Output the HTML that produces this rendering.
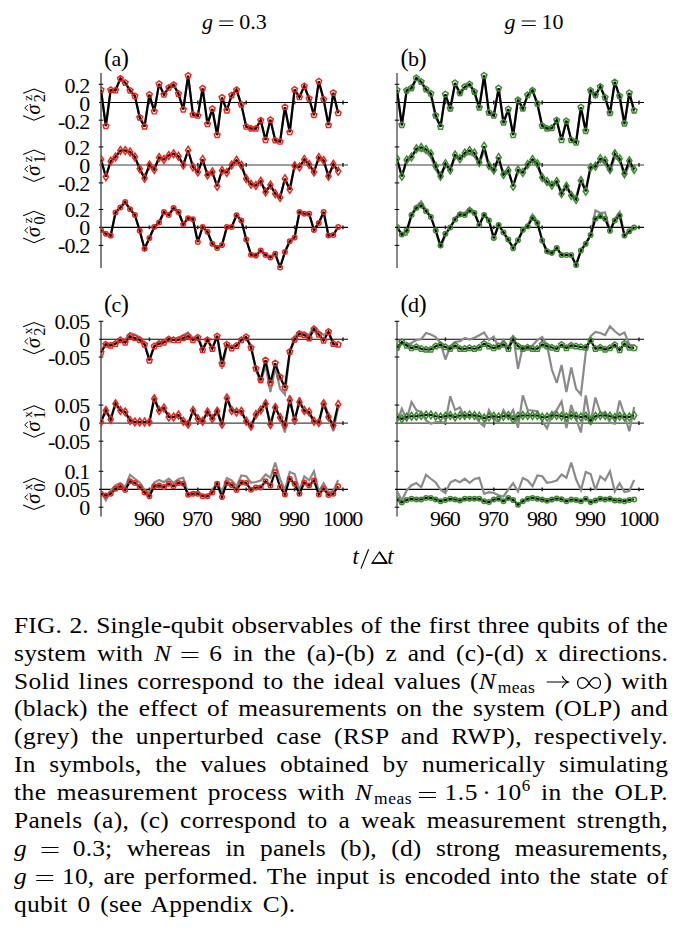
<!DOCTYPE html>
<html><head><meta charset="utf-8">
<style>
html,body{margin:0;padding:0;background:#fff;}
body{width:684px;height:930px;position:relative;overflow:hidden;}
#fig{position:absolute;left:0;top:0;}
.ln{position:absolute;left:14px;width:617px;transform:scaleX(1.06);transform-origin:0 0;font-family:"Liberation Serif",serif;font-size:24px;line-height:26px;height:26px;white-space:nowrap;text-align:justify;text-align-last:justify;color:#000;}
.ln.last{text-align:left;text-align-last:left;word-spacing:3px;}
.ln sub{font-size:16.5px;vertical-align:-4px;line-height:0;margin-left:1.5px;}
.ln sup{font-size:16px;vertical-align:9px;line-height:0;}
.eq{display:inline-block;width:15.8px;height:4px;border-top:1.1px solid #000;border-bottom:1.1px solid #000;margin:0 0 2.5px 0;}
.arr{vertical-align:-0.3px;margin:0 3px 0 10px;}
.inf{vertical-align:0px;margin:0 2px 0 4.5px;}
.dot{margin:0 4px;}
.eq.m{margin:0 8px 2.5px 7px;}
</style></head><body>
<svg id="fig" width="684" height="930" viewBox="0 0 684 930">
<line x1="101" y1="73" x2="101" y2="268" stroke="#808080" stroke-width="2"/>
<line x1="99" y1="102.5" x2="348" y2="102.5" stroke="#000" stroke-width="1.1"/>
<line x1="149.40" y1="100.6" x2="149.40" y2="104.4" stroke="#222" stroke-width="1.5"/>
<line x1="197.80" y1="100.6" x2="197.80" y2="104.4" stroke="#222" stroke-width="1.5"/>
<line x1="246.20" y1="100.6" x2="246.20" y2="104.4" stroke="#222" stroke-width="1.5"/>
<line x1="294.60" y1="100.6" x2="294.60" y2="104.4" stroke="#222" stroke-width="1.5"/>
<line x1="343.00" y1="100.6" x2="343.00" y2="104.4" stroke="#222" stroke-width="1.5"/>
<line x1="99" y1="164.9" x2="348" y2="164.9" stroke="#7c7c7c" stroke-width="1.5"/>
<line x1="149.40" y1="163.0" x2="149.40" y2="166.8" stroke="#222" stroke-width="1.5"/>
<line x1="197.80" y1="163.0" x2="197.80" y2="166.8" stroke="#222" stroke-width="1.5"/>
<line x1="246.20" y1="163.0" x2="246.20" y2="166.8" stroke="#222" stroke-width="1.5"/>
<line x1="294.60" y1="163.0" x2="294.60" y2="166.8" stroke="#222" stroke-width="1.5"/>
<line x1="343.00" y1="163.0" x2="343.00" y2="166.8" stroke="#222" stroke-width="1.5"/>
<line x1="99" y1="227.4" x2="348" y2="227.4" stroke="#000" stroke-width="1.1"/>
<line x1="149.40" y1="225.5" x2="149.40" y2="229.3" stroke="#222" stroke-width="1.5"/>
<line x1="197.80" y1="225.5" x2="197.80" y2="229.3" stroke="#222" stroke-width="1.5"/>
<line x1="246.20" y1="225.5" x2="246.20" y2="229.3" stroke="#222" stroke-width="1.5"/>
<line x1="294.60" y1="225.5" x2="294.60" y2="229.3" stroke="#222" stroke-width="1.5"/>
<line x1="343.00" y1="225.5" x2="343.00" y2="229.3" stroke="#222" stroke-width="1.5"/>
<line x1="98.7" y1="84.3" x2="103.3" y2="84.3" stroke="#111" stroke-width="1.1"/>
<line x1="98.7" y1="120.2" x2="103.3" y2="120.2" stroke="#111" stroke-width="1.1"/>
<line x1="98.7" y1="146.9" x2="103.3" y2="146.9" stroke="#111" stroke-width="1.1"/>
<line x1="98.7" y1="182.9" x2="103.3" y2="182.9" stroke="#111" stroke-width="1.1"/>
<line x1="98.7" y1="209.5" x2="103.3" y2="209.5" stroke="#111" stroke-width="1.1"/>
<line x1="98.7" y1="245.4" x2="103.3" y2="245.4" stroke="#111" stroke-width="1.1"/>
<line x1="397" y1="73" x2="397" y2="268" stroke="#4a4a4a" stroke-width="1.3"/>
<line x1="395" y1="102.5" x2="644" y2="102.5" stroke="#000" stroke-width="1.1"/>
<line x1="445.40" y1="100.6" x2="445.40" y2="104.4" stroke="#222" stroke-width="1.5"/>
<line x1="493.80" y1="100.6" x2="493.80" y2="104.4" stroke="#222" stroke-width="1.5"/>
<line x1="542.20" y1="100.6" x2="542.20" y2="104.4" stroke="#222" stroke-width="1.5"/>
<line x1="590.60" y1="100.6" x2="590.60" y2="104.4" stroke="#222" stroke-width="1.5"/>
<line x1="639.00" y1="100.6" x2="639.00" y2="104.4" stroke="#222" stroke-width="1.5"/>
<line x1="395" y1="164.9" x2="644" y2="164.9" stroke="#7c7c7c" stroke-width="1.5"/>
<line x1="445.40" y1="163.0" x2="445.40" y2="166.8" stroke="#222" stroke-width="1.5"/>
<line x1="493.80" y1="163.0" x2="493.80" y2="166.8" stroke="#222" stroke-width="1.5"/>
<line x1="542.20" y1="163.0" x2="542.20" y2="166.8" stroke="#222" stroke-width="1.5"/>
<line x1="590.60" y1="163.0" x2="590.60" y2="166.8" stroke="#222" stroke-width="1.5"/>
<line x1="639.00" y1="163.0" x2="639.00" y2="166.8" stroke="#222" stroke-width="1.5"/>
<line x1="395" y1="227.4" x2="644" y2="227.4" stroke="#000" stroke-width="1.1"/>
<line x1="445.40" y1="225.5" x2="445.40" y2="229.3" stroke="#222" stroke-width="1.5"/>
<line x1="493.80" y1="225.5" x2="493.80" y2="229.3" stroke="#222" stroke-width="1.5"/>
<line x1="542.20" y1="225.5" x2="542.20" y2="229.3" stroke="#222" stroke-width="1.5"/>
<line x1="590.60" y1="225.5" x2="590.60" y2="229.3" stroke="#222" stroke-width="1.5"/>
<line x1="639.00" y1="225.5" x2="639.00" y2="229.3" stroke="#222" stroke-width="1.5"/>
<line x1="394.7" y1="84.3" x2="399.3" y2="84.3" stroke="#111" stroke-width="1.1"/>
<line x1="394.7" y1="120.2" x2="399.3" y2="120.2" stroke="#111" stroke-width="1.1"/>
<line x1="394.7" y1="146.9" x2="399.3" y2="146.9" stroke="#111" stroke-width="1.1"/>
<line x1="394.7" y1="182.9" x2="399.3" y2="182.9" stroke="#111" stroke-width="1.1"/>
<line x1="394.7" y1="209.5" x2="399.3" y2="209.5" stroke="#111" stroke-width="1.1"/>
<line x1="394.7" y1="245.4" x2="399.3" y2="245.4" stroke="#111" stroke-width="1.1"/>
<line x1="101" y1="321" x2="101" y2="516.5" stroke="#808080" stroke-width="2"/>
<line x1="99" y1="339.3" x2="348" y2="339.3" stroke="#000" stroke-width="1.1"/>
<line x1="149.40" y1="337.40000000000003" x2="149.40" y2="341.2" stroke="#222" stroke-width="1.5"/>
<line x1="197.80" y1="337.40000000000003" x2="197.80" y2="341.2" stroke="#222" stroke-width="1.5"/>
<line x1="246.20" y1="337.40000000000003" x2="246.20" y2="341.2" stroke="#222" stroke-width="1.5"/>
<line x1="294.60" y1="337.40000000000003" x2="294.60" y2="341.2" stroke="#222" stroke-width="1.5"/>
<line x1="343.00" y1="337.40000000000003" x2="343.00" y2="341.2" stroke="#222" stroke-width="1.5"/>
<line x1="99" y1="423.1" x2="348" y2="423.1" stroke="#444" stroke-width="1.2"/>
<line x1="149.40" y1="421.20000000000005" x2="149.40" y2="425.0" stroke="#222" stroke-width="1.5"/>
<line x1="197.80" y1="421.20000000000005" x2="197.80" y2="425.0" stroke="#222" stroke-width="1.5"/>
<line x1="246.20" y1="421.20000000000005" x2="246.20" y2="425.0" stroke="#222" stroke-width="1.5"/>
<line x1="294.60" y1="421.20000000000005" x2="294.60" y2="425.0" stroke="#222" stroke-width="1.5"/>
<line x1="343.00" y1="421.20000000000005" x2="343.00" y2="425.0" stroke="#222" stroke-width="1.5"/>
<line x1="99" y1="489.4" x2="348" y2="489.4" stroke="#000" stroke-width="1.1"/>
<line x1="149.40" y1="487.5" x2="149.40" y2="491.29999999999995" stroke="#222" stroke-width="1.5"/>
<line x1="197.80" y1="487.5" x2="197.80" y2="491.29999999999995" stroke="#222" stroke-width="1.5"/>
<line x1="246.20" y1="487.5" x2="246.20" y2="491.29999999999995" stroke="#222" stroke-width="1.5"/>
<line x1="294.60" y1="487.5" x2="294.60" y2="491.29999999999995" stroke="#222" stroke-width="1.5"/>
<line x1="343.00" y1="487.5" x2="343.00" y2="491.29999999999995" stroke="#222" stroke-width="1.5"/>
<line x1="98.7" y1="321.3" x2="103.3" y2="321.3" stroke="#111" stroke-width="1.1"/>
<line x1="98.7" y1="357" x2="103.3" y2="357" stroke="#111" stroke-width="1.1"/>
<line x1="98.7" y1="405.1" x2="103.3" y2="405.1" stroke="#111" stroke-width="1.1"/>
<line x1="98.7" y1="441.2" x2="103.3" y2="441.2" stroke="#111" stroke-width="1.1"/>
<line x1="98.7" y1="471.3" x2="103.3" y2="471.3" stroke="#111" stroke-width="1.1"/>
<line x1="98.7" y1="507.2" x2="103.3" y2="507.2" stroke="#111" stroke-width="1.1"/>
<line x1="397" y1="321" x2="397" y2="516.5" stroke="#4a4a4a" stroke-width="1.3"/>
<line x1="395" y1="339.3" x2="644" y2="339.3" stroke="#000" stroke-width="1.1"/>
<line x1="445.40" y1="337.40000000000003" x2="445.40" y2="341.2" stroke="#222" stroke-width="1.5"/>
<line x1="493.80" y1="337.40000000000003" x2="493.80" y2="341.2" stroke="#222" stroke-width="1.5"/>
<line x1="542.20" y1="337.40000000000003" x2="542.20" y2="341.2" stroke="#222" stroke-width="1.5"/>
<line x1="590.60" y1="337.40000000000003" x2="590.60" y2="341.2" stroke="#222" stroke-width="1.5"/>
<line x1="639.00" y1="337.40000000000003" x2="639.00" y2="341.2" stroke="#222" stroke-width="1.5"/>
<line x1="395" y1="423.1" x2="644" y2="423.1" stroke="#444" stroke-width="1.2"/>
<line x1="445.40" y1="421.20000000000005" x2="445.40" y2="425.0" stroke="#222" stroke-width="1.5"/>
<line x1="493.80" y1="421.20000000000005" x2="493.80" y2="425.0" stroke="#222" stroke-width="1.5"/>
<line x1="542.20" y1="421.20000000000005" x2="542.20" y2="425.0" stroke="#222" stroke-width="1.5"/>
<line x1="590.60" y1="421.20000000000005" x2="590.60" y2="425.0" stroke="#222" stroke-width="1.5"/>
<line x1="639.00" y1="421.20000000000005" x2="639.00" y2="425.0" stroke="#222" stroke-width="1.5"/>
<line x1="395" y1="489.4" x2="644" y2="489.4" stroke="#000" stroke-width="1.1"/>
<line x1="445.40" y1="487.5" x2="445.40" y2="491.29999999999995" stroke="#222" stroke-width="1.5"/>
<line x1="493.80" y1="487.5" x2="493.80" y2="491.29999999999995" stroke="#222" stroke-width="1.5"/>
<line x1="542.20" y1="487.5" x2="542.20" y2="491.29999999999995" stroke="#222" stroke-width="1.5"/>
<line x1="590.60" y1="487.5" x2="590.60" y2="491.29999999999995" stroke="#222" stroke-width="1.5"/>
<line x1="639.00" y1="487.5" x2="639.00" y2="491.29999999999995" stroke="#222" stroke-width="1.5"/>
<line x1="394.7" y1="321.3" x2="399.3" y2="321.3" stroke="#111" stroke-width="1.1"/>
<line x1="394.7" y1="357" x2="399.3" y2="357" stroke="#111" stroke-width="1.1"/>
<line x1="394.7" y1="405.1" x2="399.3" y2="405.1" stroke="#111" stroke-width="1.1"/>
<line x1="394.7" y1="441.2" x2="399.3" y2="441.2" stroke="#111" stroke-width="1.1"/>
<line x1="394.7" y1="471.3" x2="399.3" y2="471.3" stroke="#111" stroke-width="1.1"/>
<line x1="394.7" y1="507.2" x2="399.3" y2="507.2" stroke="#111" stroke-width="1.1"/>
<defs><clipPath id="cl"><rect x="100.6" y="0" width="260" height="600"/></clipPath><clipPath id="cr"><rect x="396.8" y="0" width="260" height="600"/></clipPath></defs>
<g clip-path="url(#cl)">
<polyline points="101.00,89.95 105.84,126.06 110.68,89.95 115.52,90.33 120.36,78.55 125.20,82.73 130.04,90.52 134.88,96.04 139.72,117.51 144.56,126.63 149.40,94.71 154.24,111.43 159.08,83.87 163.92,94.71 168.76,87.67 173.60,84.82 178.44,93.76 183.28,109.53 188.12,75.70 192.96,114.66 197.80,115.61 202.64,88.43 207.48,124.16 212.32,108.96 217.16,135.04 222.00,97.56 226.84,110.48 231.68,95.28 236.52,89.95 241.36,104.59 246.20,126.68 251.04,128.58 255.88,128.58 260.72,120.41 265.56,139.98 270.40,119.84 275.24,140.36 280.08,141.69 284.92,107.10 289.76,132.19 294.60,89.57 299.44,97.18 304.28,86.15 309.12,98.51 313.96,115.08 318.80,81.40 323.64,99.46 328.48,125.16 333.32,92.81 338.16,113.19" fill="none" stroke="#888" stroke-width="2.2" stroke-linejoin="miter" stroke-miterlimit="3"/>
<polyline points="101.00,89.95 105.84,126.06 110.68,89.95 115.52,90.33 120.36,78.55 125.20,82.73 130.04,90.52 134.88,96.04 139.72,117.51 144.56,126.63 149.40,94.71 154.24,111.43 159.08,83.87 163.92,94.71 168.76,87.67 173.60,84.82 178.44,93.76 183.28,109.53 188.12,75.70 192.96,114.66 197.80,115.61 202.64,88.43 207.48,124.16 212.32,108.96 217.16,135.04 222.00,97.56 226.84,110.48 231.68,95.28 236.52,89.95 241.36,104.59 246.20,126.68 251.04,128.58 255.88,128.58 260.72,120.41 265.56,139.98 270.40,119.84 275.24,140.36 280.08,141.69 284.92,107.10 289.76,132.19 294.60,89.57 299.44,97.18 304.28,86.15 309.12,98.51 313.96,115.08 318.80,81.40 323.64,99.46 328.48,125.16 333.32,92.81 338.16,113.19" fill="none" stroke="#000" stroke-width="2.2" stroke-linejoin="miter" stroke-miterlimit="3"/>
<path d="M101.00,86.95 L103.85,89.02 L102.76,92.38 L99.24,92.38 L98.15,89.02ZM105.84,123.06 L108.69,125.13 L107.60,128.49 L104.08,128.49 L102.99,125.13ZM110.68,86.95 L113.53,89.02 L112.44,92.38 L108.92,92.38 L107.83,89.02ZM115.52,87.33 L118.37,89.40 L117.28,92.76 L113.76,92.76 L112.67,89.40ZM120.36,75.55 L123.21,77.62 L122.12,80.98 L118.60,80.98 L117.51,77.62ZM125.20,79.73 L128.05,81.80 L126.96,85.16 L123.44,85.16 L122.35,81.80ZM130.04,87.52 L132.89,89.59 L131.80,92.95 L128.28,92.95 L127.19,89.59ZM134.88,93.04 L137.73,95.11 L136.64,98.47 L133.12,98.47 L132.03,95.11ZM139.72,114.51 L142.57,116.58 L141.48,119.94 L137.96,119.94 L136.87,116.58ZM144.56,123.63 L147.41,125.70 L146.32,129.06 L142.80,129.06 L141.71,125.70ZM149.40,91.71 L152.25,93.78 L151.16,97.14 L147.64,97.14 L146.55,93.78ZM154.24,108.43 L157.09,110.50 L156.00,113.86 L152.48,113.86 L151.39,110.50ZM159.08,80.87 L161.93,82.94 L160.84,86.30 L157.32,86.30 L156.23,82.94ZM163.92,91.71 L166.77,93.78 L165.68,97.14 L162.16,97.14 L161.07,93.78ZM168.76,84.67 L171.61,86.74 L170.52,90.10 L167.00,90.10 L165.91,86.74ZM173.60,81.82 L176.45,83.89 L175.36,87.25 L171.84,87.25 L170.75,83.89ZM178.44,90.76 L181.29,92.83 L180.20,96.19 L176.68,96.19 L175.59,92.83ZM183.28,106.53 L186.13,108.60 L185.04,111.96 L181.52,111.96 L180.43,108.60ZM188.12,72.70 L190.97,74.77 L189.88,78.13 L186.36,78.13 L185.27,74.77ZM192.96,111.66 L195.81,113.73 L194.72,117.09 L191.20,117.09 L190.11,113.73ZM197.80,112.61 L200.65,114.68 L199.56,118.04 L196.04,118.04 L194.95,114.68ZM202.64,85.43 L205.49,87.50 L204.40,90.86 L200.88,90.86 L199.79,87.50ZM207.48,121.16 L210.33,123.23 L209.24,126.59 L205.72,126.59 L204.63,123.23ZM212.32,105.96 L215.17,108.03 L214.08,111.39 L210.56,111.39 L209.47,108.03ZM217.16,132.04 L220.01,134.11 L218.92,137.47 L215.40,137.47 L214.31,134.11ZM222.00,94.56 L224.85,96.63 L223.76,99.99 L220.24,99.99 L219.15,96.63ZM226.84,107.48 L229.69,109.55 L228.60,112.91 L225.08,112.91 L223.99,109.55ZM231.68,92.28 L234.53,94.35 L233.44,97.71 L229.92,97.71 L228.83,94.35ZM236.52,86.95 L239.37,89.02 L238.28,92.38 L234.76,92.38 L233.67,89.02ZM241.36,101.59 L244.21,103.66 L243.12,107.02 L239.60,107.02 L238.51,103.66ZM246.20,123.68 L249.05,125.75 L247.96,129.11 L244.44,129.11 L243.35,125.75ZM251.04,125.58 L253.89,127.65 L252.80,131.01 L249.28,131.01 L248.19,127.65ZM255.88,125.58 L258.73,127.65 L257.64,131.01 L254.12,131.01 L253.03,127.65ZM260.72,117.41 L263.57,119.48 L262.48,122.84 L258.96,122.84 L257.87,119.48ZM265.56,136.98 L268.41,139.05 L267.32,142.41 L263.80,142.41 L262.71,139.05ZM270.40,116.84 L273.25,118.91 L272.16,122.27 L268.64,122.27 L267.55,118.91ZM275.24,137.36 L278.09,139.43 L277.00,142.79 L273.48,142.79 L272.39,139.43ZM280.08,138.69 L282.93,140.76 L281.84,144.12 L278.32,144.12 L277.23,140.76ZM284.92,104.10 L287.77,106.17 L286.68,109.53 L283.16,109.53 L282.07,106.17ZM289.76,129.19 L292.61,131.26 L291.52,134.62 L288.00,134.62 L286.91,131.26ZM294.60,86.57 L297.45,88.64 L296.36,92.00 L292.84,92.00 L291.75,88.64ZM299.44,94.18 L302.29,96.25 L301.20,99.61 L297.68,99.61 L296.59,96.25ZM304.28,83.15 L307.13,85.22 L306.04,88.58 L302.52,88.58 L301.43,85.22ZM309.12,95.51 L311.97,97.58 L310.88,100.94 L307.36,100.94 L306.27,97.58ZM313.96,112.08 L316.81,114.15 L315.72,117.51 L312.20,117.51 L311.11,114.15ZM318.80,78.40 L321.65,80.47 L320.56,83.83 L317.04,83.83 L315.95,80.47ZM323.64,96.46 L326.49,98.53 L325.40,101.89 L321.88,101.89 L320.79,98.53ZM328.48,122.16 L331.33,124.23 L330.24,127.59 L326.72,127.59 L325.63,124.23ZM333.32,89.81 L336.17,91.88 L335.08,95.24 L331.56,95.24 L330.47,91.88ZM338.16,110.19 L341.01,112.26 L339.92,115.62 L336.40,115.62 L335.31,112.26Z" fill="none" stroke="#e8261c" stroke-width="1.45"/>
<polyline points="101.00,159.50 105.84,176.75 110.68,161.25 115.52,157.00 120.36,150.50 125.20,150.50 130.04,152.00 134.88,157.00 139.72,168.75 144.56,178.25 149.40,165.00 154.24,169.50 159.08,157.50 163.92,159.50 168.76,155.50 173.60,153.75 178.44,156.25 183.28,165.00 188.12,150.25 192.96,167.00 197.80,172.00 202.64,159.50 207.48,175.00 212.32,172.00 217.16,186.25 222.00,170.50 226.84,172.50 231.68,165.00 236.52,160.25 241.36,165.25 246.20,178.75 251.04,184.25 255.88,185.50 260.72,181.25 265.56,192.00 270.40,185.00 275.24,193.75 280.08,197.50 284.92,178.75 289.76,189.50 294.60,165.75 299.44,167.00 304.28,159.50 309.12,164.50 313.96,172.00 318.80,157.50 323.64,160.50 328.48,176.25 333.32,164.25 338.16,171.25" fill="none" stroke="#888" stroke-width="2.2" stroke-linejoin="miter" stroke-miterlimit="3"/>
<polyline points="101.00,159.50 105.84,176.75 110.68,161.25 115.52,157.00 120.36,150.50 125.20,150.50 130.04,152.00 134.88,157.00 139.72,168.75 144.56,178.25 149.40,165.00 154.24,169.50 159.08,157.50 163.92,159.50 168.76,155.50 173.60,153.75 178.44,156.25 183.28,165.00 188.12,150.25 192.96,167.00 197.80,172.00 202.64,159.50 207.48,175.00 212.32,172.00 217.16,186.25 222.00,170.50 226.84,172.50 231.68,165.00 236.52,160.25 241.36,165.25 246.20,178.75 251.04,184.25 255.88,185.50 260.72,181.25 265.56,192.00 270.40,185.00 275.24,193.75 280.08,197.50 284.92,178.75 289.76,189.50 294.60,165.75 299.44,167.00 304.28,159.50 309.12,164.50 313.96,172.00 318.80,157.50 323.64,160.50 328.48,176.25 333.32,164.25 338.16,171.25" fill="none" stroke="#000" stroke-width="2.2" stroke-linejoin="miter" stroke-miterlimit="3"/>
<path d="M101.00,155.50 L103.60,159.50 L101.00,163.50 L98.40,159.50ZM105.84,172.75 L108.44,176.75 L105.84,180.75 L103.24,176.75ZM110.68,157.25 L113.28,161.25 L110.68,165.25 L108.08,161.25ZM115.52,153.00 L118.12,157.00 L115.52,161.00 L112.92,157.00ZM120.36,146.50 L122.96,150.50 L120.36,154.50 L117.76,150.50ZM125.20,146.50 L127.80,150.50 L125.20,154.50 L122.60,150.50ZM130.04,148.00 L132.64,152.00 L130.04,156.00 L127.44,152.00ZM134.88,153.00 L137.48,157.00 L134.88,161.00 L132.28,157.00ZM139.72,164.75 L142.32,168.75 L139.72,172.75 L137.12,168.75ZM144.56,174.25 L147.16,178.25 L144.56,182.25 L141.96,178.25ZM149.40,161.00 L152.00,165.00 L149.40,169.00 L146.80,165.00ZM154.24,165.50 L156.84,169.50 L154.24,173.50 L151.64,169.50ZM159.08,153.50 L161.68,157.50 L159.08,161.50 L156.48,157.50ZM163.92,155.50 L166.52,159.50 L163.92,163.50 L161.32,159.50ZM168.76,151.50 L171.36,155.50 L168.76,159.50 L166.16,155.50ZM173.60,149.75 L176.20,153.75 L173.60,157.75 L171.00,153.75ZM178.44,152.25 L181.04,156.25 L178.44,160.25 L175.84,156.25ZM183.28,161.00 L185.88,165.00 L183.28,169.00 L180.68,165.00ZM188.12,146.25 L190.72,150.25 L188.12,154.25 L185.52,150.25ZM192.96,163.00 L195.56,167.00 L192.96,171.00 L190.36,167.00ZM197.80,168.00 L200.40,172.00 L197.80,176.00 L195.20,172.00ZM202.64,155.50 L205.24,159.50 L202.64,163.50 L200.04,159.50ZM207.48,171.00 L210.08,175.00 L207.48,179.00 L204.88,175.00ZM212.32,168.00 L214.92,172.00 L212.32,176.00 L209.72,172.00ZM217.16,182.25 L219.76,186.25 L217.16,190.25 L214.56,186.25ZM222.00,166.50 L224.60,170.50 L222.00,174.50 L219.40,170.50ZM226.84,168.50 L229.44,172.50 L226.84,176.50 L224.24,172.50ZM231.68,161.00 L234.28,165.00 L231.68,169.00 L229.08,165.00ZM236.52,156.25 L239.12,160.25 L236.52,164.25 L233.92,160.25ZM241.36,161.25 L243.96,165.25 L241.36,169.25 L238.76,165.25ZM246.20,174.75 L248.80,178.75 L246.20,182.75 L243.60,178.75ZM251.04,180.25 L253.64,184.25 L251.04,188.25 L248.44,184.25ZM255.88,181.50 L258.48,185.50 L255.88,189.50 L253.28,185.50ZM260.72,177.25 L263.32,181.25 L260.72,185.25 L258.12,181.25ZM265.56,188.00 L268.16,192.00 L265.56,196.00 L262.96,192.00ZM270.40,181.00 L273.00,185.00 L270.40,189.00 L267.80,185.00ZM275.24,189.75 L277.84,193.75 L275.24,197.75 L272.64,193.75ZM280.08,193.50 L282.68,197.50 L280.08,201.50 L277.48,197.50ZM284.92,174.75 L287.52,178.75 L284.92,182.75 L282.32,178.75ZM289.76,185.50 L292.36,189.50 L289.76,193.50 L287.16,189.50ZM294.60,161.75 L297.20,165.75 L294.60,169.75 L292.00,165.75ZM299.44,163.00 L302.04,167.00 L299.44,171.00 L296.84,167.00ZM304.28,155.50 L306.88,159.50 L304.28,163.50 L301.68,159.50ZM309.12,160.50 L311.72,164.50 L309.12,168.50 L306.52,164.50ZM313.96,168.00 L316.56,172.00 L313.96,176.00 L311.36,172.00ZM318.80,153.50 L321.40,157.50 L318.80,161.50 L316.20,157.50ZM323.64,156.50 L326.24,160.50 L323.64,164.50 L321.04,160.50ZM328.48,172.25 L331.08,176.25 L328.48,180.25 L325.88,176.25ZM333.32,160.25 L335.92,164.25 L333.32,168.25 L330.72,164.25ZM338.16,167.25 L340.76,171.25 L338.16,175.25 L335.56,171.25Z" fill="none" stroke="#e8261c" stroke-width="1.45"/>
<polyline points="101.00,230.00 105.84,233.75 110.68,235.75 115.52,212.50 120.36,207.50 125.20,202.00 130.04,209.25 134.88,215.00 139.72,230.75 144.56,248.75 149.40,238.00 154.24,227.00 159.08,222.50 163.92,212.00 168.76,215.00 173.60,208.00 178.44,212.00 183.28,224.25 188.12,218.25 192.96,219.25 197.80,242.00 202.64,227.00 207.48,231.75 212.32,243.75 217.16,248.00 222.00,245.00 226.84,227.00 231.68,227.00 236.52,215.25 241.36,220.50 246.20,239.50 251.04,254.75 255.88,255.50 260.72,250.50 265.56,255.00 270.40,257.50 275.24,253.75 280.08,267.50 284.92,252.00 289.76,241.25 294.60,237.50 299.44,212.00 304.28,213.75 309.12,213.75 313.96,230.00 318.80,223.00 323.64,212.00 328.48,235.50 333.32,235.00 338.16,227.00" fill="none" stroke="#888" stroke-width="2.2" stroke-linejoin="miter" stroke-miterlimit="3"/>
<polyline points="101.00,230.00 105.84,233.75 110.68,235.75 115.52,212.50 120.36,207.50 125.20,202.00 130.04,209.25 134.88,215.00 139.72,230.75 144.56,248.75 149.40,238.00 154.24,227.00 159.08,222.50 163.92,212.00 168.76,215.00 173.60,208.00 178.44,212.00 183.28,224.25 188.12,218.25 192.96,219.25 197.80,242.00 202.64,227.00 207.48,231.75 212.32,243.75 217.16,248.00 222.00,245.00 226.84,227.00 231.68,227.00 236.52,215.25 241.36,220.50 246.20,239.50 251.04,254.75 255.88,255.50 260.72,250.50 265.56,255.00 270.40,257.50 275.24,253.75 280.08,267.50 284.92,252.00 289.76,241.25 294.60,237.50 299.44,212.00 304.28,213.75 309.12,213.75 313.96,230.00 318.80,223.00 323.64,212.00 328.48,235.50 333.32,235.00 338.16,227.00" fill="none" stroke="#000" stroke-width="2.2" stroke-linejoin="miter" stroke-miterlimit="3"/>
<path d="M98.70,230.00 a2.3,2.3 0 1,0 4.60,0 a2.3,2.3 0 1,0 -4.60,0ZM103.54,233.75 a2.3,2.3 0 1,0 4.60,0 a2.3,2.3 0 1,0 -4.60,0ZM108.38,235.75 a2.3,2.3 0 1,0 4.60,0 a2.3,2.3 0 1,0 -4.60,0ZM113.22,212.50 a2.3,2.3 0 1,0 4.60,0 a2.3,2.3 0 1,0 -4.60,0ZM118.06,207.50 a2.3,2.3 0 1,0 4.60,0 a2.3,2.3 0 1,0 -4.60,0ZM122.90,202.00 a2.3,2.3 0 1,0 4.60,0 a2.3,2.3 0 1,0 -4.60,0ZM127.74,209.25 a2.3,2.3 0 1,0 4.60,0 a2.3,2.3 0 1,0 -4.60,0ZM132.58,215.00 a2.3,2.3 0 1,0 4.60,0 a2.3,2.3 0 1,0 -4.60,0ZM137.42,230.75 a2.3,2.3 0 1,0 4.60,0 a2.3,2.3 0 1,0 -4.60,0ZM142.26,248.75 a2.3,2.3 0 1,0 4.60,0 a2.3,2.3 0 1,0 -4.60,0ZM147.10,238.00 a2.3,2.3 0 1,0 4.60,0 a2.3,2.3 0 1,0 -4.60,0ZM151.94,227.00 a2.3,2.3 0 1,0 4.60,0 a2.3,2.3 0 1,0 -4.60,0ZM156.78,222.50 a2.3,2.3 0 1,0 4.60,0 a2.3,2.3 0 1,0 -4.60,0ZM161.62,212.00 a2.3,2.3 0 1,0 4.60,0 a2.3,2.3 0 1,0 -4.60,0ZM166.46,215.00 a2.3,2.3 0 1,0 4.60,0 a2.3,2.3 0 1,0 -4.60,0ZM171.30,208.00 a2.3,2.3 0 1,0 4.60,0 a2.3,2.3 0 1,0 -4.60,0ZM176.14,212.00 a2.3,2.3 0 1,0 4.60,0 a2.3,2.3 0 1,0 -4.60,0ZM180.98,224.25 a2.3,2.3 0 1,0 4.60,0 a2.3,2.3 0 1,0 -4.60,0ZM185.82,218.25 a2.3,2.3 0 1,0 4.60,0 a2.3,2.3 0 1,0 -4.60,0ZM190.66,219.25 a2.3,2.3 0 1,0 4.60,0 a2.3,2.3 0 1,0 -4.60,0ZM195.50,242.00 a2.3,2.3 0 1,0 4.60,0 a2.3,2.3 0 1,0 -4.60,0ZM200.34,227.00 a2.3,2.3 0 1,0 4.60,0 a2.3,2.3 0 1,0 -4.60,0ZM205.18,231.75 a2.3,2.3 0 1,0 4.60,0 a2.3,2.3 0 1,0 -4.60,0ZM210.02,243.75 a2.3,2.3 0 1,0 4.60,0 a2.3,2.3 0 1,0 -4.60,0ZM214.86,248.00 a2.3,2.3 0 1,0 4.60,0 a2.3,2.3 0 1,0 -4.60,0ZM219.70,245.00 a2.3,2.3 0 1,0 4.60,0 a2.3,2.3 0 1,0 -4.60,0ZM224.54,227.00 a2.3,2.3 0 1,0 4.60,0 a2.3,2.3 0 1,0 -4.60,0ZM229.38,227.00 a2.3,2.3 0 1,0 4.60,0 a2.3,2.3 0 1,0 -4.60,0ZM234.22,215.25 a2.3,2.3 0 1,0 4.60,0 a2.3,2.3 0 1,0 -4.60,0ZM239.06,220.50 a2.3,2.3 0 1,0 4.60,0 a2.3,2.3 0 1,0 -4.60,0ZM243.90,239.50 a2.3,2.3 0 1,0 4.60,0 a2.3,2.3 0 1,0 -4.60,0ZM248.74,254.75 a2.3,2.3 0 1,0 4.60,0 a2.3,2.3 0 1,0 -4.60,0ZM253.58,255.50 a2.3,2.3 0 1,0 4.60,0 a2.3,2.3 0 1,0 -4.60,0ZM258.42,250.50 a2.3,2.3 0 1,0 4.60,0 a2.3,2.3 0 1,0 -4.60,0ZM263.26,255.00 a2.3,2.3 0 1,0 4.60,0 a2.3,2.3 0 1,0 -4.60,0ZM268.10,257.50 a2.3,2.3 0 1,0 4.60,0 a2.3,2.3 0 1,0 -4.60,0ZM272.94,253.75 a2.3,2.3 0 1,0 4.60,0 a2.3,2.3 0 1,0 -4.60,0ZM277.78,267.50 a2.3,2.3 0 1,0 4.60,0 a2.3,2.3 0 1,0 -4.60,0ZM282.62,252.00 a2.3,2.3 0 1,0 4.60,0 a2.3,2.3 0 1,0 -4.60,0ZM287.46,241.25 a2.3,2.3 0 1,0 4.60,0 a2.3,2.3 0 1,0 -4.60,0ZM292.30,237.50 a2.3,2.3 0 1,0 4.60,0 a2.3,2.3 0 1,0 -4.60,0ZM297.14,212.00 a2.3,2.3 0 1,0 4.60,0 a2.3,2.3 0 1,0 -4.60,0ZM301.98,213.75 a2.3,2.3 0 1,0 4.60,0 a2.3,2.3 0 1,0 -4.60,0ZM306.82,213.75 a2.3,2.3 0 1,0 4.60,0 a2.3,2.3 0 1,0 -4.60,0ZM311.66,230.00 a2.3,2.3 0 1,0 4.60,0 a2.3,2.3 0 1,0 -4.60,0ZM316.50,223.00 a2.3,2.3 0 1,0 4.60,0 a2.3,2.3 0 1,0 -4.60,0ZM321.34,212.00 a2.3,2.3 0 1,0 4.60,0 a2.3,2.3 0 1,0 -4.60,0ZM326.18,235.50 a2.3,2.3 0 1,0 4.60,0 a2.3,2.3 0 1,0 -4.60,0ZM331.02,235.00 a2.3,2.3 0 1,0 4.60,0 a2.3,2.3 0 1,0 -4.60,0ZM335.86,227.00 a2.3,2.3 0 1,0 4.60,0 a2.3,2.3 0 1,0 -4.60,0Z" fill="none" stroke="#e8261c" stroke-width="1.45"/>
</g><g clip-path="url(#cr)">
<polyline points="397.00,89.95 401.84,126.06 406.68,89.95 411.52,90.33 416.36,78.55 421.20,82.73 426.04,90.52 430.88,96.04 435.72,117.51 440.56,126.63 445.40,94.71 450.24,111.43 455.08,83.87 459.92,94.71 464.76,87.67 469.60,84.82 474.44,93.76 479.28,109.53 484.12,75.70 488.96,114.66 493.80,115.61 498.64,88.43 503.48,124.16 508.32,108.96 513.16,135.04 518.00,97.56 522.84,110.48 527.68,95.28 532.52,89.95 537.36,104.59 542.20,126.68 547.04,128.58 551.88,128.58 556.72,120.41 561.56,139.98 566.40,119.84 571.24,140.36 576.08,141.69 580.92,107.10 585.76,132.19 590.60,89.57 595.44,97.18 600.28,86.15 605.12,98.51 609.96,115.08 614.80,81.40 619.64,99.46 624.48,125.16 629.32,92.81 634.16,113.19" fill="none" stroke="#8a8a8a" stroke-width="2.2" stroke-linejoin="miter" stroke-miterlimit="3"/>
<polyline points="397.00,90.00 401.84,125.00 406.68,90.50 411.52,88.00 416.36,78.00 421.20,81.75 426.04,89.25 430.88,93.50 435.72,115.50 440.56,126.75 445.40,94.25 450.24,108.50 455.08,83.00 459.92,93.00 464.76,86.75 469.60,84.25 474.44,91.75 479.28,107.50 484.12,75.50 488.96,112.50 493.80,115.50 498.64,88.25 503.48,122.50 508.32,109.25 513.16,135.00 518.00,100.00 522.84,108.50 527.68,95.00 532.52,90.50 537.36,103.50 542.20,125.75 547.04,128.50 551.88,128.00 556.72,120.25 561.56,140.00 566.40,121.00 571.24,140.00 576.08,142.50 580.92,107.25 585.76,131.00 590.60,90.50 595.44,95.00 600.28,86.75 605.12,97.50 609.96,113.00 614.80,82.25 619.64,96.00 624.48,123.50 629.32,93.00 634.16,110.50" fill="none" stroke="#000" stroke-width="2.2" stroke-linejoin="miter" stroke-miterlimit="3"/>
<path d="M397.00,87.00 L399.85,89.07 L398.76,92.43 L395.24,92.43 L394.15,89.07ZM401.84,122.00 L404.69,124.07 L403.60,127.43 L400.08,127.43 L398.99,124.07ZM406.68,87.50 L409.53,89.57 L408.44,92.93 L404.92,92.93 L403.83,89.57ZM411.52,85.00 L414.37,87.07 L413.28,90.43 L409.76,90.43 L408.67,87.07ZM416.36,75.00 L419.21,77.07 L418.12,80.43 L414.60,80.43 L413.51,77.07ZM421.20,78.75 L424.05,80.82 L422.96,84.18 L419.44,84.18 L418.35,80.82ZM426.04,86.25 L428.89,88.32 L427.80,91.68 L424.28,91.68 L423.19,88.32ZM430.88,90.50 L433.73,92.57 L432.64,95.93 L429.12,95.93 L428.03,92.57ZM435.72,112.50 L438.57,114.57 L437.48,117.93 L433.96,117.93 L432.87,114.57ZM440.56,123.75 L443.41,125.82 L442.32,129.18 L438.80,129.18 L437.71,125.82ZM445.40,91.25 L448.25,93.32 L447.16,96.68 L443.64,96.68 L442.55,93.32ZM450.24,105.50 L453.09,107.57 L452.00,110.93 L448.48,110.93 L447.39,107.57ZM455.08,80.00 L457.93,82.07 L456.84,85.43 L453.32,85.43 L452.23,82.07ZM459.92,90.00 L462.77,92.07 L461.68,95.43 L458.16,95.43 L457.07,92.07ZM464.76,83.75 L467.61,85.82 L466.52,89.18 L463.00,89.18 L461.91,85.82ZM469.60,81.25 L472.45,83.32 L471.36,86.68 L467.84,86.68 L466.75,83.32ZM474.44,88.75 L477.29,90.82 L476.20,94.18 L472.68,94.18 L471.59,90.82ZM479.28,104.50 L482.13,106.57 L481.04,109.93 L477.52,109.93 L476.43,106.57ZM484.12,72.50 L486.97,74.57 L485.88,77.93 L482.36,77.93 L481.27,74.57ZM488.96,109.50 L491.81,111.57 L490.72,114.93 L487.20,114.93 L486.11,111.57ZM493.80,112.50 L496.65,114.57 L495.56,117.93 L492.04,117.93 L490.95,114.57ZM498.64,85.25 L501.49,87.32 L500.40,90.68 L496.88,90.68 L495.79,87.32ZM503.48,119.50 L506.33,121.57 L505.24,124.93 L501.72,124.93 L500.63,121.57ZM508.32,106.25 L511.17,108.32 L510.08,111.68 L506.56,111.68 L505.47,108.32ZM513.16,132.00 L516.01,134.07 L514.92,137.43 L511.40,137.43 L510.31,134.07ZM518.00,97.00 L520.85,99.07 L519.76,102.43 L516.24,102.43 L515.15,99.07ZM522.84,105.50 L525.69,107.57 L524.60,110.93 L521.08,110.93 L519.99,107.57ZM527.68,92.00 L530.53,94.07 L529.44,97.43 L525.92,97.43 L524.83,94.07ZM532.52,87.50 L535.37,89.57 L534.28,92.93 L530.76,92.93 L529.67,89.57ZM537.36,100.50 L540.21,102.57 L539.12,105.93 L535.60,105.93 L534.51,102.57ZM542.20,122.75 L545.05,124.82 L543.96,128.18 L540.44,128.18 L539.35,124.82ZM547.04,125.50 L549.89,127.57 L548.80,130.93 L545.28,130.93 L544.19,127.57ZM551.88,125.00 L554.73,127.07 L553.64,130.43 L550.12,130.43 L549.03,127.07ZM556.72,117.25 L559.57,119.32 L558.48,122.68 L554.96,122.68 L553.87,119.32ZM561.56,137.00 L564.41,139.07 L563.32,142.43 L559.80,142.43 L558.71,139.07ZM566.40,118.00 L569.25,120.07 L568.16,123.43 L564.64,123.43 L563.55,120.07ZM571.24,137.00 L574.09,139.07 L573.00,142.43 L569.48,142.43 L568.39,139.07ZM576.08,139.50 L578.93,141.57 L577.84,144.93 L574.32,144.93 L573.23,141.57ZM580.92,104.25 L583.77,106.32 L582.68,109.68 L579.16,109.68 L578.07,106.32ZM585.76,128.00 L588.61,130.07 L587.52,133.43 L584.00,133.43 L582.91,130.07ZM590.60,87.50 L593.45,89.57 L592.36,92.93 L588.84,92.93 L587.75,89.57ZM595.44,92.00 L598.29,94.07 L597.20,97.43 L593.68,97.43 L592.59,94.07ZM600.28,83.75 L603.13,85.82 L602.04,89.18 L598.52,89.18 L597.43,85.82ZM605.12,94.50 L607.97,96.57 L606.88,99.93 L603.36,99.93 L602.27,96.57ZM609.96,110.00 L612.81,112.07 L611.72,115.43 L608.20,115.43 L607.11,112.07ZM614.80,79.25 L617.65,81.32 L616.56,84.68 L613.04,84.68 L611.95,81.32ZM619.64,93.00 L622.49,95.07 L621.40,98.43 L617.88,98.43 L616.79,95.07ZM624.48,120.50 L627.33,122.57 L626.24,125.93 L622.72,125.93 L621.63,122.57ZM629.32,90.00 L632.17,92.07 L631.08,95.43 L627.56,95.43 L626.47,92.07ZM634.16,107.50 L637.01,109.57 L635.92,112.93 L632.40,112.93 L631.31,109.57Z" fill="none" stroke="#3c8a2e" stroke-width="1.45"/>
<polyline points="397.00,159.50 401.84,176.75 406.68,161.25 411.52,157.00 416.36,150.50 421.20,150.50 426.04,152.00 430.88,157.00 435.72,168.75 440.56,178.25 445.40,165.00 450.24,169.50 455.08,157.50 459.92,159.50 464.76,155.50 469.60,153.75 474.44,156.25 479.28,165.00 484.12,150.25 488.96,167.00 493.80,172.00 498.64,159.50 503.48,175.00 508.32,172.00 513.16,186.25 518.00,170.50 522.84,172.50 527.68,165.00 532.52,160.25 537.36,165.25 542.20,178.75 547.04,184.25 551.88,185.50 556.72,181.25 561.56,192.00 566.40,185.00 571.24,193.75 576.08,197.50 580.92,178.75 585.76,189.50 590.60,165.75 595.44,167.00 600.28,159.50 605.12,164.50 609.96,172.00 614.80,157.50 619.64,160.50 624.48,176.25 629.32,164.25 634.16,171.25" fill="none" stroke="#8a8a8a" stroke-width="2.2" stroke-linejoin="miter" stroke-miterlimit="3"/>
<polyline points="397.00,158.75 401.84,176.25 406.68,160.00 411.52,157.00 416.36,148.75 421.20,147.50 426.04,149.50 430.88,153.75 435.72,166.25 440.56,176.25 445.40,163.75 450.24,170.00 455.08,155.00 459.92,158.75 464.76,153.00 469.60,150.50 474.44,153.00 479.28,162.50 484.12,146.25 488.96,165.50 493.80,170.00 498.64,157.50 503.48,174.50 508.32,170.50 513.16,186.25 518.00,170.00 522.84,172.50 527.68,164.50 532.52,159.50 537.36,163.75 542.20,177.50 547.04,181.50 551.88,185.25 556.72,181.50 561.56,193.75 566.40,186.25 571.24,195.50 576.08,199.50 580.92,180.50 585.76,191.25 590.60,167.50 595.44,166.25 600.28,158.75 605.12,160.50 609.96,169.50 614.80,153.75 619.64,158.75 624.48,173.75 629.32,160.75 634.16,169.50" fill="none" stroke="#000" stroke-width="2.2" stroke-linejoin="miter" stroke-miterlimit="3"/>
<path d="M397.00,154.75 L399.60,158.75 L397.00,162.75 L394.40,158.75ZM401.84,172.25 L404.44,176.25 L401.84,180.25 L399.24,176.25ZM406.68,156.00 L409.28,160.00 L406.68,164.00 L404.08,160.00ZM411.52,153.00 L414.12,157.00 L411.52,161.00 L408.92,157.00ZM416.36,144.75 L418.96,148.75 L416.36,152.75 L413.76,148.75ZM421.20,143.50 L423.80,147.50 L421.20,151.50 L418.60,147.50ZM426.04,145.50 L428.64,149.50 L426.04,153.50 L423.44,149.50ZM430.88,149.75 L433.48,153.75 L430.88,157.75 L428.28,153.75ZM435.72,162.25 L438.32,166.25 L435.72,170.25 L433.12,166.25ZM440.56,172.25 L443.16,176.25 L440.56,180.25 L437.96,176.25ZM445.40,159.75 L448.00,163.75 L445.40,167.75 L442.80,163.75ZM450.24,166.00 L452.84,170.00 L450.24,174.00 L447.64,170.00ZM455.08,151.00 L457.68,155.00 L455.08,159.00 L452.48,155.00ZM459.92,154.75 L462.52,158.75 L459.92,162.75 L457.32,158.75ZM464.76,149.00 L467.36,153.00 L464.76,157.00 L462.16,153.00ZM469.60,146.50 L472.20,150.50 L469.60,154.50 L467.00,150.50ZM474.44,149.00 L477.04,153.00 L474.44,157.00 L471.84,153.00ZM479.28,158.50 L481.88,162.50 L479.28,166.50 L476.68,162.50ZM484.12,142.25 L486.72,146.25 L484.12,150.25 L481.52,146.25ZM488.96,161.50 L491.56,165.50 L488.96,169.50 L486.36,165.50ZM493.80,166.00 L496.40,170.00 L493.80,174.00 L491.20,170.00ZM498.64,153.50 L501.24,157.50 L498.64,161.50 L496.04,157.50ZM503.48,170.50 L506.08,174.50 L503.48,178.50 L500.88,174.50ZM508.32,166.50 L510.92,170.50 L508.32,174.50 L505.72,170.50ZM513.16,182.25 L515.76,186.25 L513.16,190.25 L510.56,186.25ZM518.00,166.00 L520.60,170.00 L518.00,174.00 L515.40,170.00ZM522.84,168.50 L525.44,172.50 L522.84,176.50 L520.24,172.50ZM527.68,160.50 L530.28,164.50 L527.68,168.50 L525.08,164.50ZM532.52,155.50 L535.12,159.50 L532.52,163.50 L529.92,159.50ZM537.36,159.75 L539.96,163.75 L537.36,167.75 L534.76,163.75ZM542.20,173.50 L544.80,177.50 L542.20,181.50 L539.60,177.50ZM547.04,177.50 L549.64,181.50 L547.04,185.50 L544.44,181.50ZM551.88,181.25 L554.48,185.25 L551.88,189.25 L549.28,185.25ZM556.72,177.50 L559.32,181.50 L556.72,185.50 L554.12,181.50ZM561.56,189.75 L564.16,193.75 L561.56,197.75 L558.96,193.75ZM566.40,182.25 L569.00,186.25 L566.40,190.25 L563.80,186.25ZM571.24,191.50 L573.84,195.50 L571.24,199.50 L568.64,195.50ZM576.08,195.50 L578.68,199.50 L576.08,203.50 L573.48,199.50ZM580.92,176.50 L583.52,180.50 L580.92,184.50 L578.32,180.50ZM585.76,187.25 L588.36,191.25 L585.76,195.25 L583.16,191.25ZM590.60,163.50 L593.20,167.50 L590.60,171.50 L588.00,167.50ZM595.44,162.25 L598.04,166.25 L595.44,170.25 L592.84,166.25ZM600.28,154.75 L602.88,158.75 L600.28,162.75 L597.68,158.75ZM605.12,156.50 L607.72,160.50 L605.12,164.50 L602.52,160.50ZM609.96,165.50 L612.56,169.50 L609.96,173.50 L607.36,169.50ZM614.80,149.75 L617.40,153.75 L614.80,157.75 L612.20,153.75ZM619.64,154.75 L622.24,158.75 L619.64,162.75 L617.04,158.75ZM624.48,169.75 L627.08,173.75 L624.48,177.75 L621.88,173.75ZM629.32,156.75 L631.92,160.75 L629.32,164.75 L626.72,160.75ZM634.16,165.50 L636.76,169.50 L634.16,173.50 L631.56,169.50Z" fill="none" stroke="#3c8a2e" stroke-width="1.45"/>
<polyline points="397.00,227.00 401.84,235.00 406.68,235.00 411.52,214.50 416.36,206.25 421.20,201.25 426.04,210.00 430.88,216.25 435.72,231.25 440.56,247.50 445.40,235.00 450.24,227.50 455.08,218.00 459.92,212.50 464.76,213.00 469.60,207.50 474.44,212.00 479.28,225.00 484.12,213.75 488.96,220.00 493.80,239.50 498.64,224.50 503.48,232.50 508.32,241.25 513.16,246.25 518.00,241.25 522.84,230.00 527.68,225.50 532.52,214.50 537.36,221.25 542.20,240.50 547.04,253.00 551.88,254.50 556.72,248.00 561.56,255.00 566.40,255.00 571.24,255.00 576.08,265.00 580.92,250.50 585.76,243.75 590.60,235.00 595.44,210.50 600.28,213.00 605.12,212.50 609.96,230.75 614.80,218.75 619.64,212.00 624.48,235.50 629.32,232.50 634.16,227.50" fill="none" stroke="#8a8a8a" stroke-width="2.2" stroke-linejoin="miter" stroke-miterlimit="3"/>
<polyline points="397.00,227.00 401.84,234.50 406.68,230.50 411.52,215.00 416.36,208.00 421.20,205.50 426.04,211.25 430.88,217.00 435.72,230.50 440.56,245.50 445.40,233.75 450.24,227.50 455.08,219.50 459.92,214.50 464.76,215.00 469.60,210.50 474.44,213.00 479.28,225.00 484.12,215.00 488.96,220.50 493.80,238.00 498.64,225.00 503.48,232.50 508.32,239.50 513.16,248.25 518.00,240.25 522.84,230.00 527.68,226.25 532.52,218.00 537.36,223.00 542.20,240.50 547.04,251.25 551.88,252.75 556.72,248.00 561.56,255.00 566.40,255.00 571.24,255.00 576.08,265.00 580.92,250.50 585.76,243.75 590.60,235.00 595.44,218.75 600.28,216.25 605.12,218.75 609.96,230.75 614.80,220.50 619.64,215.50 624.48,235.50 629.32,231.25 634.16,227.50" fill="none" stroke="#000" stroke-width="2.2" stroke-linejoin="miter" stroke-miterlimit="3"/>
<path d="M394.70,227.00 a2.3,2.3 0 1,0 4.60,0 a2.3,2.3 0 1,0 -4.60,0ZM399.54,234.50 a2.3,2.3 0 1,0 4.60,0 a2.3,2.3 0 1,0 -4.60,0ZM404.38,230.50 a2.3,2.3 0 1,0 4.60,0 a2.3,2.3 0 1,0 -4.60,0ZM409.22,215.00 a2.3,2.3 0 1,0 4.60,0 a2.3,2.3 0 1,0 -4.60,0ZM414.06,208.00 a2.3,2.3 0 1,0 4.60,0 a2.3,2.3 0 1,0 -4.60,0ZM418.90,205.50 a2.3,2.3 0 1,0 4.60,0 a2.3,2.3 0 1,0 -4.60,0ZM423.74,211.25 a2.3,2.3 0 1,0 4.60,0 a2.3,2.3 0 1,0 -4.60,0ZM428.58,217.00 a2.3,2.3 0 1,0 4.60,0 a2.3,2.3 0 1,0 -4.60,0ZM433.42,230.50 a2.3,2.3 0 1,0 4.60,0 a2.3,2.3 0 1,0 -4.60,0ZM438.26,245.50 a2.3,2.3 0 1,0 4.60,0 a2.3,2.3 0 1,0 -4.60,0ZM443.10,233.75 a2.3,2.3 0 1,0 4.60,0 a2.3,2.3 0 1,0 -4.60,0ZM447.94,227.50 a2.3,2.3 0 1,0 4.60,0 a2.3,2.3 0 1,0 -4.60,0ZM452.78,219.50 a2.3,2.3 0 1,0 4.60,0 a2.3,2.3 0 1,0 -4.60,0ZM457.62,214.50 a2.3,2.3 0 1,0 4.60,0 a2.3,2.3 0 1,0 -4.60,0ZM462.46,215.00 a2.3,2.3 0 1,0 4.60,0 a2.3,2.3 0 1,0 -4.60,0ZM467.30,210.50 a2.3,2.3 0 1,0 4.60,0 a2.3,2.3 0 1,0 -4.60,0ZM472.14,213.00 a2.3,2.3 0 1,0 4.60,0 a2.3,2.3 0 1,0 -4.60,0ZM476.98,225.00 a2.3,2.3 0 1,0 4.60,0 a2.3,2.3 0 1,0 -4.60,0ZM481.82,215.00 a2.3,2.3 0 1,0 4.60,0 a2.3,2.3 0 1,0 -4.60,0ZM486.66,220.50 a2.3,2.3 0 1,0 4.60,0 a2.3,2.3 0 1,0 -4.60,0ZM491.50,238.00 a2.3,2.3 0 1,0 4.60,0 a2.3,2.3 0 1,0 -4.60,0ZM496.34,225.00 a2.3,2.3 0 1,0 4.60,0 a2.3,2.3 0 1,0 -4.60,0ZM501.18,232.50 a2.3,2.3 0 1,0 4.60,0 a2.3,2.3 0 1,0 -4.60,0ZM506.02,239.50 a2.3,2.3 0 1,0 4.60,0 a2.3,2.3 0 1,0 -4.60,0ZM510.86,248.25 a2.3,2.3 0 1,0 4.60,0 a2.3,2.3 0 1,0 -4.60,0ZM515.70,240.25 a2.3,2.3 0 1,0 4.60,0 a2.3,2.3 0 1,0 -4.60,0ZM520.54,230.00 a2.3,2.3 0 1,0 4.60,0 a2.3,2.3 0 1,0 -4.60,0ZM525.38,226.25 a2.3,2.3 0 1,0 4.60,0 a2.3,2.3 0 1,0 -4.60,0ZM530.22,218.00 a2.3,2.3 0 1,0 4.60,0 a2.3,2.3 0 1,0 -4.60,0ZM535.06,223.00 a2.3,2.3 0 1,0 4.60,0 a2.3,2.3 0 1,0 -4.60,0ZM539.90,240.50 a2.3,2.3 0 1,0 4.60,0 a2.3,2.3 0 1,0 -4.60,0ZM544.74,251.25 a2.3,2.3 0 1,0 4.60,0 a2.3,2.3 0 1,0 -4.60,0ZM549.58,252.75 a2.3,2.3 0 1,0 4.60,0 a2.3,2.3 0 1,0 -4.60,0ZM554.42,248.00 a2.3,2.3 0 1,0 4.60,0 a2.3,2.3 0 1,0 -4.60,0ZM559.26,255.00 a2.3,2.3 0 1,0 4.60,0 a2.3,2.3 0 1,0 -4.60,0ZM564.10,255.00 a2.3,2.3 0 1,0 4.60,0 a2.3,2.3 0 1,0 -4.60,0ZM568.94,255.00 a2.3,2.3 0 1,0 4.60,0 a2.3,2.3 0 1,0 -4.60,0ZM573.78,265.00 a2.3,2.3 0 1,0 4.60,0 a2.3,2.3 0 1,0 -4.60,0ZM578.62,250.50 a2.3,2.3 0 1,0 4.60,0 a2.3,2.3 0 1,0 -4.60,0ZM583.46,243.75 a2.3,2.3 0 1,0 4.60,0 a2.3,2.3 0 1,0 -4.60,0ZM588.30,235.00 a2.3,2.3 0 1,0 4.60,0 a2.3,2.3 0 1,0 -4.60,0ZM593.14,218.75 a2.3,2.3 0 1,0 4.60,0 a2.3,2.3 0 1,0 -4.60,0ZM597.98,216.25 a2.3,2.3 0 1,0 4.60,0 a2.3,2.3 0 1,0 -4.60,0ZM602.82,218.75 a2.3,2.3 0 1,0 4.60,0 a2.3,2.3 0 1,0 -4.60,0ZM607.66,230.75 a2.3,2.3 0 1,0 4.60,0 a2.3,2.3 0 1,0 -4.60,0ZM612.50,220.50 a2.3,2.3 0 1,0 4.60,0 a2.3,2.3 0 1,0 -4.60,0ZM617.34,215.50 a2.3,2.3 0 1,0 4.60,0 a2.3,2.3 0 1,0 -4.60,0ZM622.18,235.50 a2.3,2.3 0 1,0 4.60,0 a2.3,2.3 0 1,0 -4.60,0ZM627.02,231.25 a2.3,2.3 0 1,0 4.60,0 a2.3,2.3 0 1,0 -4.60,0ZM631.86,227.50 a2.3,2.3 0 1,0 4.60,0 a2.3,2.3 0 1,0 -4.60,0Z" fill="none" stroke="#3c8a2e" stroke-width="1.45"/>
</g><g clip-path="url(#cl)">
<polyline points="101.00,351.25 105.84,343.00 110.68,344.50 115.52,343.00 120.36,340.00 125.20,339.25 130.04,333.00 134.88,334.50 139.72,337.00 144.56,343.00 149.40,359.50 154.24,346.25 159.08,342.00 163.92,341.25 168.76,338.00 173.60,339.50 178.44,337.75 183.28,335.25 188.12,332.50 192.96,340.00 197.80,336.75 202.64,348.00 207.48,340.00 212.32,348.00 217.16,335.25 222.00,368.75 226.84,346.25 231.68,347.00 236.52,345.50 241.36,340.00 246.20,337.00 251.04,345.50 255.88,369.50 260.72,383.00 265.56,365.00 270.40,392.00 275.24,367.50 280.08,388.75 284.92,394.50 289.76,352.50 294.60,336.25 299.44,332.00 304.28,333.00 309.12,335.00 313.96,326.25 318.80,331.25 323.64,335.00 328.48,332.50 333.32,344.50 338.16,345.50" fill="none" stroke="#8a8a8a" stroke-width="2.2" stroke-linejoin="miter" stroke-miterlimit="3"/>
<polyline points="101.00,352.50 105.84,344.50 110.68,345.50 115.52,343.75 120.36,340.00 125.20,342.50 130.04,336.25 134.88,338.00 139.72,340.00 144.56,344.50 149.40,360.50 154.24,346.25 159.08,343.75 163.92,342.50 168.76,339.25 173.60,340.00 178.44,340.00 183.28,338.00 188.12,336.25 192.96,340.00 197.80,337.50 202.64,350.00 207.48,340.00 212.32,348.75 217.16,336.25 222.00,363.75 226.84,344.50 231.68,348.25 236.52,345.75 241.36,340.00 246.20,337.00 251.04,347.75 255.88,368.50 260.72,380.00 265.56,360.25 270.40,383.00 275.24,363.25 280.08,377.00 284.92,387.50 289.76,351.75 294.60,339.50 299.44,333.75 304.28,335.00 309.12,338.25 313.96,329.25 318.80,334.50 323.64,340.50 328.48,331.75 333.32,343.75 338.16,344.50" fill="none" stroke="#000" stroke-width="2.2" stroke-linejoin="miter" stroke-miterlimit="3"/>
<path d="M101.00,349.50 L103.85,351.57 L102.76,354.93 L99.24,354.93 L98.15,351.57ZM105.84,341.50 L108.69,343.57 L107.60,346.93 L104.08,346.93 L102.99,343.57ZM110.68,342.50 L113.53,344.57 L112.44,347.93 L108.92,347.93 L107.83,344.57ZM115.52,340.75 L118.37,342.82 L117.28,346.18 L113.76,346.18 L112.67,342.82ZM120.36,337.00 L123.21,339.07 L122.12,342.43 L118.60,342.43 L117.51,339.07ZM125.20,339.50 L128.05,341.57 L126.96,344.93 L123.44,344.93 L122.35,341.57ZM130.04,333.25 L132.89,335.32 L131.80,338.68 L128.28,338.68 L127.19,335.32ZM134.88,335.00 L137.73,337.07 L136.64,340.43 L133.12,340.43 L132.03,337.07ZM139.72,337.00 L142.57,339.07 L141.48,342.43 L137.96,342.43 L136.87,339.07ZM144.56,341.50 L147.41,343.57 L146.32,346.93 L142.80,346.93 L141.71,343.57ZM149.40,357.50 L152.25,359.57 L151.16,362.93 L147.64,362.93 L146.55,359.57ZM154.24,343.25 L157.09,345.32 L156.00,348.68 L152.48,348.68 L151.39,345.32ZM159.08,340.75 L161.93,342.82 L160.84,346.18 L157.32,346.18 L156.23,342.82ZM163.92,339.50 L166.77,341.57 L165.68,344.93 L162.16,344.93 L161.07,341.57ZM168.76,336.25 L171.61,338.32 L170.52,341.68 L167.00,341.68 L165.91,338.32ZM173.60,337.00 L176.45,339.07 L175.36,342.43 L171.84,342.43 L170.75,339.07ZM178.44,337.00 L181.29,339.07 L180.20,342.43 L176.68,342.43 L175.59,339.07ZM183.28,335.00 L186.13,337.07 L185.04,340.43 L181.52,340.43 L180.43,337.07ZM188.12,333.25 L190.97,335.32 L189.88,338.68 L186.36,338.68 L185.27,335.32ZM192.96,337.00 L195.81,339.07 L194.72,342.43 L191.20,342.43 L190.11,339.07ZM197.80,334.50 L200.65,336.57 L199.56,339.93 L196.04,339.93 L194.95,336.57ZM202.64,347.00 L205.49,349.07 L204.40,352.43 L200.88,352.43 L199.79,349.07ZM207.48,337.00 L210.33,339.07 L209.24,342.43 L205.72,342.43 L204.63,339.07ZM212.32,345.75 L215.17,347.82 L214.08,351.18 L210.56,351.18 L209.47,347.82ZM217.16,333.25 L220.01,335.32 L218.92,338.68 L215.40,338.68 L214.31,335.32ZM222.00,360.75 L224.85,362.82 L223.76,366.18 L220.24,366.18 L219.15,362.82ZM226.84,341.50 L229.69,343.57 L228.60,346.93 L225.08,346.93 L223.99,343.57ZM231.68,345.25 L234.53,347.32 L233.44,350.68 L229.92,350.68 L228.83,347.32ZM236.52,342.75 L239.37,344.82 L238.28,348.18 L234.76,348.18 L233.67,344.82ZM241.36,337.00 L244.21,339.07 L243.12,342.43 L239.60,342.43 L238.51,339.07ZM246.20,334.00 L249.05,336.07 L247.96,339.43 L244.44,339.43 L243.35,336.07ZM251.04,344.75 L253.89,346.82 L252.80,350.18 L249.28,350.18 L248.19,346.82ZM255.88,365.50 L258.73,367.57 L257.64,370.93 L254.12,370.93 L253.03,367.57ZM260.72,377.00 L263.57,379.07 L262.48,382.43 L258.96,382.43 L257.87,379.07ZM265.56,357.25 L268.41,359.32 L267.32,362.68 L263.80,362.68 L262.71,359.32ZM270.40,380.00 L273.25,382.07 L272.16,385.43 L268.64,385.43 L267.55,382.07ZM275.24,360.25 L278.09,362.32 L277.00,365.68 L273.48,365.68 L272.39,362.32ZM280.08,374.00 L282.93,376.07 L281.84,379.43 L278.32,379.43 L277.23,376.07ZM284.92,384.50 L287.77,386.57 L286.68,389.93 L283.16,389.93 L282.07,386.57ZM289.76,348.75 L292.61,350.82 L291.52,354.18 L288.00,354.18 L286.91,350.82ZM294.60,336.50 L297.45,338.57 L296.36,341.93 L292.84,341.93 L291.75,338.57ZM299.44,330.75 L302.29,332.82 L301.20,336.18 L297.68,336.18 L296.59,332.82ZM304.28,332.00 L307.13,334.07 L306.04,337.43 L302.52,337.43 L301.43,334.07ZM309.12,335.25 L311.97,337.32 L310.88,340.68 L307.36,340.68 L306.27,337.32ZM313.96,326.25 L316.81,328.32 L315.72,331.68 L312.20,331.68 L311.11,328.32ZM318.80,331.50 L321.65,333.57 L320.56,336.93 L317.04,336.93 L315.95,333.57ZM323.64,337.50 L326.49,339.57 L325.40,342.93 L321.88,342.93 L320.79,339.57ZM328.48,328.75 L331.33,330.82 L330.24,334.18 L326.72,334.18 L325.63,330.82ZM333.32,340.75 L336.17,342.82 L335.08,346.18 L331.56,346.18 L330.47,342.82ZM338.16,341.50 L341.01,343.57 L339.92,346.93 L336.40,346.93 L335.31,343.57Z" fill="none" stroke="#e8261c" stroke-width="1.45"/>
<polyline points="101.00,422.00 105.84,408.75 110.68,419.50 115.52,402.00 120.36,410.00 125.20,412.00 130.04,420.50 134.88,423.75 139.72,422.00 144.56,422.00 149.40,422.50 154.24,396.25 159.08,410.00 163.92,407.50 168.76,417.00 173.60,417.00 178.44,415.00 183.28,422.25 188.12,426.25 192.96,410.00 197.80,418.75 202.64,422.50 207.48,410.00 212.32,418.00 217.16,410.00 222.00,427.75 226.84,395.25 231.68,410.00 236.52,410.50 241.36,411.25 246.20,421.25 251.04,428.25 255.88,414.75 260.72,410.00 265.56,401.50 270.40,428.00 275.24,405.00 280.08,418.75 284.92,432.50 289.76,395.50 294.60,422.50 299.44,397.50 304.28,412.50 309.12,413.00 313.96,422.50 318.80,423.75 323.64,400.50 328.48,415.00 333.32,431.25 338.16,407.00" fill="none" stroke="#8a8a8a" stroke-width="2.2" stroke-linejoin="miter" stroke-miterlimit="3"/>
<polyline points="101.00,422.00 105.84,410.50 110.68,419.50 115.52,403.75 120.36,410.50 125.20,412.00 130.04,420.50 134.88,422.00 139.72,422.00 144.56,422.00 149.40,422.00 154.24,398.75 159.08,410.50 163.92,408.00 168.76,417.00 173.60,417.00 178.44,415.00 183.28,421.25 188.12,424.25 192.96,410.50 197.80,418.75 202.64,421.25 207.48,412.00 212.32,418.75 217.16,411.25 222.00,424.25 226.84,398.00 231.68,410.50 236.52,412.00 241.36,411.25 246.20,421.25 251.04,426.25 255.88,414.50 260.72,410.00 265.56,403.75 270.40,424.50 275.24,407.50 280.08,417.50 284.92,425.00 289.76,400.00 294.60,420.00 299.44,402.00 304.28,410.50 309.12,412.00 313.96,421.25 318.80,422.50 323.64,403.75 328.48,417.00 333.32,425.50 338.16,404.50" fill="none" stroke="#000" stroke-width="2.2" stroke-linejoin="miter" stroke-miterlimit="3"/>
<path d="M101.00,418.00 L103.60,422.00 L101.00,426.00 L98.40,422.00ZM105.84,406.50 L108.44,410.50 L105.84,414.50 L103.24,410.50ZM110.68,415.50 L113.28,419.50 L110.68,423.50 L108.08,419.50ZM115.52,399.75 L118.12,403.75 L115.52,407.75 L112.92,403.75ZM120.36,406.50 L122.96,410.50 L120.36,414.50 L117.76,410.50ZM125.20,408.00 L127.80,412.00 L125.20,416.00 L122.60,412.00ZM130.04,416.50 L132.64,420.50 L130.04,424.50 L127.44,420.50ZM134.88,418.00 L137.48,422.00 L134.88,426.00 L132.28,422.00ZM139.72,418.00 L142.32,422.00 L139.72,426.00 L137.12,422.00ZM144.56,418.00 L147.16,422.00 L144.56,426.00 L141.96,422.00ZM149.40,418.00 L152.00,422.00 L149.40,426.00 L146.80,422.00ZM154.24,394.75 L156.84,398.75 L154.24,402.75 L151.64,398.75ZM159.08,406.50 L161.68,410.50 L159.08,414.50 L156.48,410.50ZM163.92,404.00 L166.52,408.00 L163.92,412.00 L161.32,408.00ZM168.76,413.00 L171.36,417.00 L168.76,421.00 L166.16,417.00ZM173.60,413.00 L176.20,417.00 L173.60,421.00 L171.00,417.00ZM178.44,411.00 L181.04,415.00 L178.44,419.00 L175.84,415.00ZM183.28,417.25 L185.88,421.25 L183.28,425.25 L180.68,421.25ZM188.12,420.25 L190.72,424.25 L188.12,428.25 L185.52,424.25ZM192.96,406.50 L195.56,410.50 L192.96,414.50 L190.36,410.50ZM197.80,414.75 L200.40,418.75 L197.80,422.75 L195.20,418.75ZM202.64,417.25 L205.24,421.25 L202.64,425.25 L200.04,421.25ZM207.48,408.00 L210.08,412.00 L207.48,416.00 L204.88,412.00ZM212.32,414.75 L214.92,418.75 L212.32,422.75 L209.72,418.75ZM217.16,407.25 L219.76,411.25 L217.16,415.25 L214.56,411.25ZM222.00,420.25 L224.60,424.25 L222.00,428.25 L219.40,424.25ZM226.84,394.00 L229.44,398.00 L226.84,402.00 L224.24,398.00ZM231.68,406.50 L234.28,410.50 L231.68,414.50 L229.08,410.50ZM236.52,408.00 L239.12,412.00 L236.52,416.00 L233.92,412.00ZM241.36,407.25 L243.96,411.25 L241.36,415.25 L238.76,411.25ZM246.20,417.25 L248.80,421.25 L246.20,425.25 L243.60,421.25ZM251.04,422.25 L253.64,426.25 L251.04,430.25 L248.44,426.25ZM255.88,410.50 L258.48,414.50 L255.88,418.50 L253.28,414.50ZM260.72,406.00 L263.32,410.00 L260.72,414.00 L258.12,410.00ZM265.56,399.75 L268.16,403.75 L265.56,407.75 L262.96,403.75ZM270.40,420.50 L273.00,424.50 L270.40,428.50 L267.80,424.50ZM275.24,403.50 L277.84,407.50 L275.24,411.50 L272.64,407.50ZM280.08,413.50 L282.68,417.50 L280.08,421.50 L277.48,417.50ZM284.92,421.00 L287.52,425.00 L284.92,429.00 L282.32,425.00ZM289.76,396.00 L292.36,400.00 L289.76,404.00 L287.16,400.00ZM294.60,416.00 L297.20,420.00 L294.60,424.00 L292.00,420.00ZM299.44,398.00 L302.04,402.00 L299.44,406.00 L296.84,402.00ZM304.28,406.50 L306.88,410.50 L304.28,414.50 L301.68,410.50ZM309.12,408.00 L311.72,412.00 L309.12,416.00 L306.52,412.00ZM313.96,417.25 L316.56,421.25 L313.96,425.25 L311.36,421.25ZM318.80,418.50 L321.40,422.50 L318.80,426.50 L316.20,422.50ZM323.64,399.75 L326.24,403.75 L323.64,407.75 L321.04,403.75ZM328.48,413.00 L331.08,417.00 L328.48,421.00 L325.88,417.00ZM333.32,421.50 L335.92,425.50 L333.32,429.50 L330.72,425.50ZM338.16,400.50 L340.76,404.50 L338.16,408.50 L335.56,404.50Z" fill="none" stroke="#e8261c" stroke-width="1.45"/>
<polyline points="101.00,491.25 105.84,500.25 110.68,490.50 115.52,485.25 120.36,483.00 125.20,487.25 130.04,474.75 134.88,478.75 139.72,482.50 144.56,489.75 149.40,493.00 154.24,482.50 159.08,480.00 163.92,482.25 168.76,478.75 173.60,482.75 178.44,479.00 183.28,477.75 188.12,493.75 192.96,492.25 197.80,493.00 202.64,495.25 207.48,496.50 212.32,489.50 217.16,483.25 222.00,491.50 226.84,478.00 231.68,480.50 236.52,486.25 241.36,475.50 246.20,476.25 251.04,482.75 255.88,482.00 260.72,480.50 265.56,474.50 270.40,477.75 275.24,462.50 280.08,479.25 284.92,490.00 289.76,472.00 294.60,474.00 299.44,490.00 304.28,476.25 309.12,480.25 313.96,471.25 318.80,491.50 323.64,483.25 328.48,492.00 333.32,491.00 338.16,480.00" fill="none" stroke="#8a8a8a" stroke-width="2.2" stroke-linejoin="miter" stroke-miterlimit="3"/>
<polyline points="101.00,493.75 105.84,495.50 110.68,493.75 115.52,488.75 120.36,486.25 125.20,490.00 130.04,481.25 134.88,483.00 139.72,487.00 144.56,492.50 149.40,496.25 154.24,486.25 159.08,485.50 163.92,487.00 168.76,483.75 173.60,486.25 178.44,483.00 183.28,483.75 188.12,494.75 192.96,493.75 197.80,493.75 202.64,496.25 207.48,496.25 212.32,492.50 217.16,483.75 222.00,497.00 226.84,483.00 231.68,485.00 236.52,490.00 241.36,482.50 246.20,483.00 251.04,489.75 255.88,487.50 260.72,487.50 265.56,481.25 270.40,485.50 275.24,472.00 280.08,487.00 284.92,494.50 289.76,478.75 294.60,483.75 299.44,493.75 304.28,482.50 309.12,485.50 313.96,480.50 318.80,494.50 323.64,488.75 328.48,495.00 333.32,493.75 338.16,486.25" fill="none" stroke="#000" stroke-width="2.2" stroke-linejoin="miter" stroke-miterlimit="3"/>
<path d="M98.70,493.75 a2.3,2.3 0 1,0 4.60,0 a2.3,2.3 0 1,0 -4.60,0ZM103.54,495.50 a2.3,2.3 0 1,0 4.60,0 a2.3,2.3 0 1,0 -4.60,0ZM108.38,493.75 a2.3,2.3 0 1,0 4.60,0 a2.3,2.3 0 1,0 -4.60,0ZM113.22,488.75 a2.3,2.3 0 1,0 4.60,0 a2.3,2.3 0 1,0 -4.60,0ZM118.06,486.25 a2.3,2.3 0 1,0 4.60,0 a2.3,2.3 0 1,0 -4.60,0ZM122.90,490.00 a2.3,2.3 0 1,0 4.60,0 a2.3,2.3 0 1,0 -4.60,0ZM127.74,481.25 a2.3,2.3 0 1,0 4.60,0 a2.3,2.3 0 1,0 -4.60,0ZM132.58,483.00 a2.3,2.3 0 1,0 4.60,0 a2.3,2.3 0 1,0 -4.60,0ZM137.42,487.00 a2.3,2.3 0 1,0 4.60,0 a2.3,2.3 0 1,0 -4.60,0ZM142.26,492.50 a2.3,2.3 0 1,0 4.60,0 a2.3,2.3 0 1,0 -4.60,0ZM147.10,496.25 a2.3,2.3 0 1,0 4.60,0 a2.3,2.3 0 1,0 -4.60,0ZM151.94,486.25 a2.3,2.3 0 1,0 4.60,0 a2.3,2.3 0 1,0 -4.60,0ZM156.78,485.50 a2.3,2.3 0 1,0 4.60,0 a2.3,2.3 0 1,0 -4.60,0ZM161.62,487.00 a2.3,2.3 0 1,0 4.60,0 a2.3,2.3 0 1,0 -4.60,0ZM166.46,483.75 a2.3,2.3 0 1,0 4.60,0 a2.3,2.3 0 1,0 -4.60,0ZM171.30,486.25 a2.3,2.3 0 1,0 4.60,0 a2.3,2.3 0 1,0 -4.60,0ZM176.14,483.00 a2.3,2.3 0 1,0 4.60,0 a2.3,2.3 0 1,0 -4.60,0ZM180.98,483.75 a2.3,2.3 0 1,0 4.60,0 a2.3,2.3 0 1,0 -4.60,0ZM185.82,494.75 a2.3,2.3 0 1,0 4.60,0 a2.3,2.3 0 1,0 -4.60,0ZM190.66,493.75 a2.3,2.3 0 1,0 4.60,0 a2.3,2.3 0 1,0 -4.60,0ZM195.50,493.75 a2.3,2.3 0 1,0 4.60,0 a2.3,2.3 0 1,0 -4.60,0ZM200.34,496.25 a2.3,2.3 0 1,0 4.60,0 a2.3,2.3 0 1,0 -4.60,0ZM205.18,496.25 a2.3,2.3 0 1,0 4.60,0 a2.3,2.3 0 1,0 -4.60,0ZM210.02,492.50 a2.3,2.3 0 1,0 4.60,0 a2.3,2.3 0 1,0 -4.60,0ZM214.86,483.75 a2.3,2.3 0 1,0 4.60,0 a2.3,2.3 0 1,0 -4.60,0ZM219.70,497.00 a2.3,2.3 0 1,0 4.60,0 a2.3,2.3 0 1,0 -4.60,0ZM224.54,483.00 a2.3,2.3 0 1,0 4.60,0 a2.3,2.3 0 1,0 -4.60,0ZM229.38,485.00 a2.3,2.3 0 1,0 4.60,0 a2.3,2.3 0 1,0 -4.60,0ZM234.22,490.00 a2.3,2.3 0 1,0 4.60,0 a2.3,2.3 0 1,0 -4.60,0ZM239.06,482.50 a2.3,2.3 0 1,0 4.60,0 a2.3,2.3 0 1,0 -4.60,0ZM243.90,483.00 a2.3,2.3 0 1,0 4.60,0 a2.3,2.3 0 1,0 -4.60,0ZM248.74,489.75 a2.3,2.3 0 1,0 4.60,0 a2.3,2.3 0 1,0 -4.60,0ZM253.58,487.50 a2.3,2.3 0 1,0 4.60,0 a2.3,2.3 0 1,0 -4.60,0ZM258.42,487.50 a2.3,2.3 0 1,0 4.60,0 a2.3,2.3 0 1,0 -4.60,0ZM263.26,481.25 a2.3,2.3 0 1,0 4.60,0 a2.3,2.3 0 1,0 -4.60,0ZM268.10,485.50 a2.3,2.3 0 1,0 4.60,0 a2.3,2.3 0 1,0 -4.60,0ZM272.94,472.00 a2.3,2.3 0 1,0 4.60,0 a2.3,2.3 0 1,0 -4.60,0ZM277.78,487.00 a2.3,2.3 0 1,0 4.60,0 a2.3,2.3 0 1,0 -4.60,0ZM282.62,494.50 a2.3,2.3 0 1,0 4.60,0 a2.3,2.3 0 1,0 -4.60,0ZM287.46,478.75 a2.3,2.3 0 1,0 4.60,0 a2.3,2.3 0 1,0 -4.60,0ZM292.30,483.75 a2.3,2.3 0 1,0 4.60,0 a2.3,2.3 0 1,0 -4.60,0ZM297.14,493.75 a2.3,2.3 0 1,0 4.60,0 a2.3,2.3 0 1,0 -4.60,0ZM301.98,482.50 a2.3,2.3 0 1,0 4.60,0 a2.3,2.3 0 1,0 -4.60,0ZM306.82,485.50 a2.3,2.3 0 1,0 4.60,0 a2.3,2.3 0 1,0 -4.60,0ZM311.66,480.50 a2.3,2.3 0 1,0 4.60,0 a2.3,2.3 0 1,0 -4.60,0ZM316.50,494.50 a2.3,2.3 0 1,0 4.60,0 a2.3,2.3 0 1,0 -4.60,0ZM321.34,488.75 a2.3,2.3 0 1,0 4.60,0 a2.3,2.3 0 1,0 -4.60,0ZM326.18,495.00 a2.3,2.3 0 1,0 4.60,0 a2.3,2.3 0 1,0 -4.60,0ZM331.02,493.75 a2.3,2.3 0 1,0 4.60,0 a2.3,2.3 0 1,0 -4.60,0ZM335.86,486.25 a2.3,2.3 0 1,0 4.60,0 a2.3,2.3 0 1,0 -4.60,0Z" fill="none" stroke="#e8261c" stroke-width="1.45"/>
</g><g clip-path="url(#cr)">
<polyline points="397.00,351.25 401.84,343.00 406.68,344.50 411.52,343.00 416.36,340.00 421.20,339.25 426.04,333.00 430.88,334.50 435.72,337.00 440.56,343.00 445.40,359.50 450.24,346.25 455.08,342.00 459.92,341.25 464.76,338.00 469.60,339.50 474.44,337.75 479.28,335.25 484.12,332.50 488.96,340.00 493.80,336.75 498.64,348.00 503.48,340.00 508.32,348.00 513.16,335.25 518.00,368.75 522.84,346.25 527.68,347.00 532.52,345.50 537.36,340.00 542.20,337.00 547.04,345.50 551.88,369.50 556.72,383.00 561.56,365.00 566.40,392.00 571.24,367.50 576.08,388.75 580.92,394.50 585.76,352.50 590.60,336.25 595.44,332.00 600.28,333.00 605.12,335.00 609.96,326.25 614.80,331.25 619.64,335.00 624.48,332.50 629.32,344.50 634.16,345.50" fill="none" stroke="#8a8a8a" stroke-width="2.2" stroke-linejoin="miter" stroke-miterlimit="3"/>
<polyline points="397.00,347.50 401.84,342.00 406.68,345.50 411.52,348.00 416.36,347.00 421.20,348.75 426.04,349.50 430.88,349.50 435.72,346.25 440.56,345.00 445.40,347.00 450.24,348.75 455.08,345.50 459.92,348.75 464.76,348.75 469.60,348.00 474.44,348.75 479.28,347.50 484.12,343.75 488.96,346.25 493.80,348.00 498.64,346.25 503.48,344.50 508.32,348.75 513.16,339.50 518.00,346.25 522.84,348.75 527.68,347.50 532.52,348.75 537.36,348.75 542.20,344.50 547.04,346.25 551.88,347.50 556.72,348.75 561.56,344.75 566.40,348.00 571.24,345.50 576.08,346.25 580.92,347.00 585.76,347.50 590.60,340.50 595.44,348.75 600.28,347.50 605.12,349.50 609.96,348.00 614.80,345.00 619.64,350.00 624.48,343.75 629.32,347.50 634.16,348.00" fill="none" stroke="#000" stroke-width="2.2" stroke-linejoin="miter" stroke-miterlimit="3"/>
<path d="M397.00,344.50 L399.85,346.57 L398.76,349.93 L395.24,349.93 L394.15,346.57ZM401.84,339.00 L404.69,341.07 L403.60,344.43 L400.08,344.43 L398.99,341.07ZM406.68,342.50 L409.53,344.57 L408.44,347.93 L404.92,347.93 L403.83,344.57ZM411.52,345.00 L414.37,347.07 L413.28,350.43 L409.76,350.43 L408.67,347.07ZM416.36,344.00 L419.21,346.07 L418.12,349.43 L414.60,349.43 L413.51,346.07ZM421.20,345.75 L424.05,347.82 L422.96,351.18 L419.44,351.18 L418.35,347.82ZM426.04,346.50 L428.89,348.57 L427.80,351.93 L424.28,351.93 L423.19,348.57ZM430.88,346.50 L433.73,348.57 L432.64,351.93 L429.12,351.93 L428.03,348.57ZM435.72,343.25 L438.57,345.32 L437.48,348.68 L433.96,348.68 L432.87,345.32ZM440.56,342.00 L443.41,344.07 L442.32,347.43 L438.80,347.43 L437.71,344.07ZM445.40,344.00 L448.25,346.07 L447.16,349.43 L443.64,349.43 L442.55,346.07ZM450.24,345.75 L453.09,347.82 L452.00,351.18 L448.48,351.18 L447.39,347.82ZM455.08,342.50 L457.93,344.57 L456.84,347.93 L453.32,347.93 L452.23,344.57ZM459.92,345.75 L462.77,347.82 L461.68,351.18 L458.16,351.18 L457.07,347.82ZM464.76,345.75 L467.61,347.82 L466.52,351.18 L463.00,351.18 L461.91,347.82ZM469.60,345.00 L472.45,347.07 L471.36,350.43 L467.84,350.43 L466.75,347.07ZM474.44,345.75 L477.29,347.82 L476.20,351.18 L472.68,351.18 L471.59,347.82ZM479.28,344.50 L482.13,346.57 L481.04,349.93 L477.52,349.93 L476.43,346.57ZM484.12,340.75 L486.97,342.82 L485.88,346.18 L482.36,346.18 L481.27,342.82ZM488.96,343.25 L491.81,345.32 L490.72,348.68 L487.20,348.68 L486.11,345.32ZM493.80,345.00 L496.65,347.07 L495.56,350.43 L492.04,350.43 L490.95,347.07ZM498.64,343.25 L501.49,345.32 L500.40,348.68 L496.88,348.68 L495.79,345.32ZM503.48,341.50 L506.33,343.57 L505.24,346.93 L501.72,346.93 L500.63,343.57ZM508.32,345.75 L511.17,347.82 L510.08,351.18 L506.56,351.18 L505.47,347.82ZM513.16,336.50 L516.01,338.57 L514.92,341.93 L511.40,341.93 L510.31,338.57ZM518.00,343.25 L520.85,345.32 L519.76,348.68 L516.24,348.68 L515.15,345.32ZM522.84,345.75 L525.69,347.82 L524.60,351.18 L521.08,351.18 L519.99,347.82ZM527.68,344.50 L530.53,346.57 L529.44,349.93 L525.92,349.93 L524.83,346.57ZM532.52,345.75 L535.37,347.82 L534.28,351.18 L530.76,351.18 L529.67,347.82ZM537.36,345.75 L540.21,347.82 L539.12,351.18 L535.60,351.18 L534.51,347.82ZM542.20,341.50 L545.05,343.57 L543.96,346.93 L540.44,346.93 L539.35,343.57ZM547.04,343.25 L549.89,345.32 L548.80,348.68 L545.28,348.68 L544.19,345.32ZM551.88,344.50 L554.73,346.57 L553.64,349.93 L550.12,349.93 L549.03,346.57ZM556.72,345.75 L559.57,347.82 L558.48,351.18 L554.96,351.18 L553.87,347.82ZM561.56,341.75 L564.41,343.82 L563.32,347.18 L559.80,347.18 L558.71,343.82ZM566.40,345.00 L569.25,347.07 L568.16,350.43 L564.64,350.43 L563.55,347.07ZM571.24,342.50 L574.09,344.57 L573.00,347.93 L569.48,347.93 L568.39,344.57ZM576.08,343.25 L578.93,345.32 L577.84,348.68 L574.32,348.68 L573.23,345.32ZM580.92,344.00 L583.77,346.07 L582.68,349.43 L579.16,349.43 L578.07,346.07ZM585.76,344.50 L588.61,346.57 L587.52,349.93 L584.00,349.93 L582.91,346.57ZM590.60,337.50 L593.45,339.57 L592.36,342.93 L588.84,342.93 L587.75,339.57ZM595.44,345.75 L598.29,347.82 L597.20,351.18 L593.68,351.18 L592.59,347.82ZM600.28,344.50 L603.13,346.57 L602.04,349.93 L598.52,349.93 L597.43,346.57ZM605.12,346.50 L607.97,348.57 L606.88,351.93 L603.36,351.93 L602.27,348.57ZM609.96,345.00 L612.81,347.07 L611.72,350.43 L608.20,350.43 L607.11,347.07ZM614.80,342.00 L617.65,344.07 L616.56,347.43 L613.04,347.43 L611.95,344.07ZM619.64,347.00 L622.49,349.07 L621.40,352.43 L617.88,352.43 L616.79,349.07ZM624.48,340.75 L627.33,342.82 L626.24,346.18 L622.72,346.18 L621.63,342.82ZM629.32,344.50 L632.17,346.57 L631.08,349.93 L627.56,349.93 L626.47,346.57ZM634.16,345.00 L637.01,347.07 L635.92,350.43 L632.40,350.43 L631.31,347.07Z" fill="none" stroke="#3c8a2e" stroke-width="1.45"/>
<polyline points="397.00,422.00 401.84,408.75 406.68,419.50 411.52,402.00 416.36,410.00 421.20,412.00 426.04,420.50 430.88,423.75 435.72,422.00 440.56,422.00 445.40,422.50 450.24,396.25 455.08,410.00 459.92,407.50 464.76,417.00 469.60,417.00 474.44,415.00 479.28,422.25 484.12,426.25 488.96,410.00 493.80,418.75 498.64,422.50 503.48,410.00 508.32,418.00 513.16,410.00 518.00,427.75 522.84,395.25 527.68,410.00 532.52,410.50 537.36,411.25 542.20,421.25 547.04,428.25 551.88,414.75 556.72,410.00 561.56,401.50 566.40,428.00 571.24,405.00 576.08,418.75 580.92,432.50 585.76,395.50 590.60,422.50 595.44,397.50 600.28,412.50 605.12,413.00 609.96,422.50 614.80,423.75 619.64,400.50 624.48,415.00 629.32,431.25 634.16,407.00" fill="none" stroke="#8a8a8a" stroke-width="2.2" stroke-linejoin="miter" stroke-miterlimit="3"/>
<polyline points="397.00,417.00 401.84,418.75 406.68,417.00 411.52,416.25 416.36,416.25 421.20,415.50 426.04,415.00 430.88,415.00 435.72,416.25 440.56,417.00 445.40,416.25 450.24,415.50 455.08,417.00 459.92,415.50 464.76,415.50 469.60,415.00 474.44,415.50 479.28,416.25 484.12,418.00 488.96,417.00 493.80,416.25 498.64,417.00 503.48,416.25 508.32,415.50 513.16,419.25 518.00,416.25 522.84,415.50 527.68,415.50 532.52,415.50 537.36,415.50 542.20,417.25 547.04,417.00 551.88,415.50 556.72,415.50 561.56,416.25 566.40,417.00 571.24,415.50 576.08,416.25 580.92,417.00 585.76,416.25 590.60,420.50 595.44,416.25 600.28,415.50 605.12,415.50 609.96,416.25 614.80,417.50 619.64,416.25 624.48,417.00 629.32,417.00 634.16,415.50" fill="none" stroke="#000" stroke-width="2.2" stroke-linejoin="miter" stroke-miterlimit="3"/>
<path d="M397.00,413.00 L399.60,417.00 L397.00,421.00 L394.40,417.00ZM401.84,414.75 L404.44,418.75 L401.84,422.75 L399.24,418.75ZM406.68,413.00 L409.28,417.00 L406.68,421.00 L404.08,417.00ZM411.52,412.25 L414.12,416.25 L411.52,420.25 L408.92,416.25ZM416.36,412.25 L418.96,416.25 L416.36,420.25 L413.76,416.25ZM421.20,411.50 L423.80,415.50 L421.20,419.50 L418.60,415.50ZM426.04,411.00 L428.64,415.00 L426.04,419.00 L423.44,415.00ZM430.88,411.00 L433.48,415.00 L430.88,419.00 L428.28,415.00ZM435.72,412.25 L438.32,416.25 L435.72,420.25 L433.12,416.25ZM440.56,413.00 L443.16,417.00 L440.56,421.00 L437.96,417.00ZM445.40,412.25 L448.00,416.25 L445.40,420.25 L442.80,416.25ZM450.24,411.50 L452.84,415.50 L450.24,419.50 L447.64,415.50ZM455.08,413.00 L457.68,417.00 L455.08,421.00 L452.48,417.00ZM459.92,411.50 L462.52,415.50 L459.92,419.50 L457.32,415.50ZM464.76,411.50 L467.36,415.50 L464.76,419.50 L462.16,415.50ZM469.60,411.00 L472.20,415.00 L469.60,419.00 L467.00,415.00ZM474.44,411.50 L477.04,415.50 L474.44,419.50 L471.84,415.50ZM479.28,412.25 L481.88,416.25 L479.28,420.25 L476.68,416.25ZM484.12,414.00 L486.72,418.00 L484.12,422.00 L481.52,418.00ZM488.96,413.00 L491.56,417.00 L488.96,421.00 L486.36,417.00ZM493.80,412.25 L496.40,416.25 L493.80,420.25 L491.20,416.25ZM498.64,413.00 L501.24,417.00 L498.64,421.00 L496.04,417.00ZM503.48,412.25 L506.08,416.25 L503.48,420.25 L500.88,416.25ZM508.32,411.50 L510.92,415.50 L508.32,419.50 L505.72,415.50ZM513.16,415.25 L515.76,419.25 L513.16,423.25 L510.56,419.25ZM518.00,412.25 L520.60,416.25 L518.00,420.25 L515.40,416.25ZM522.84,411.50 L525.44,415.50 L522.84,419.50 L520.24,415.50ZM527.68,411.50 L530.28,415.50 L527.68,419.50 L525.08,415.50ZM532.52,411.50 L535.12,415.50 L532.52,419.50 L529.92,415.50ZM537.36,411.50 L539.96,415.50 L537.36,419.50 L534.76,415.50ZM542.20,413.25 L544.80,417.25 L542.20,421.25 L539.60,417.25ZM547.04,413.00 L549.64,417.00 L547.04,421.00 L544.44,417.00ZM551.88,411.50 L554.48,415.50 L551.88,419.50 L549.28,415.50ZM556.72,411.50 L559.32,415.50 L556.72,419.50 L554.12,415.50ZM561.56,412.25 L564.16,416.25 L561.56,420.25 L558.96,416.25ZM566.40,413.00 L569.00,417.00 L566.40,421.00 L563.80,417.00ZM571.24,411.50 L573.84,415.50 L571.24,419.50 L568.64,415.50ZM576.08,412.25 L578.68,416.25 L576.08,420.25 L573.48,416.25ZM580.92,413.00 L583.52,417.00 L580.92,421.00 L578.32,417.00ZM585.76,412.25 L588.36,416.25 L585.76,420.25 L583.16,416.25ZM590.60,416.50 L593.20,420.50 L590.60,424.50 L588.00,420.50ZM595.44,412.25 L598.04,416.25 L595.44,420.25 L592.84,416.25ZM600.28,411.50 L602.88,415.50 L600.28,419.50 L597.68,415.50ZM605.12,411.50 L607.72,415.50 L605.12,419.50 L602.52,415.50ZM609.96,412.25 L612.56,416.25 L609.96,420.25 L607.36,416.25ZM614.80,413.50 L617.40,417.50 L614.80,421.50 L612.20,417.50ZM619.64,412.25 L622.24,416.25 L619.64,420.25 L617.04,416.25ZM624.48,413.00 L627.08,417.00 L624.48,421.00 L621.88,417.00ZM629.32,413.00 L631.92,417.00 L629.32,421.00 L626.72,417.00ZM634.16,411.50 L636.76,415.50 L634.16,419.50 L631.56,415.50Z" fill="none" stroke="#3c8a2e" stroke-width="1.45"/>
<polyline points="397.00,491.25 401.84,500.25 406.68,490.50 411.52,485.25 416.36,483.00 421.20,487.25 426.04,474.75 430.88,478.75 435.72,482.50 440.56,489.75 445.40,493.00 450.24,482.50 455.08,480.00 459.92,482.25 464.76,478.75 469.60,482.75 474.44,479.00 479.28,477.75 484.12,493.75 488.96,492.25 493.80,493.00 498.64,495.25 503.48,496.50 508.32,489.50 513.16,483.25 518.00,491.50 522.84,478.00 527.68,480.50 532.52,486.25 537.36,475.50 542.20,476.25 547.04,482.75 551.88,482.00 556.72,480.50 561.56,474.50 566.40,477.75 571.24,462.50 576.08,479.25 580.92,490.00 585.76,472.00 590.60,474.00 595.44,490.00 600.28,476.25 605.12,480.25 609.96,471.25 614.80,491.50 619.64,483.25 624.48,492.00 629.32,491.00 634.16,480.00" fill="none" stroke="#8a8a8a" stroke-width="2.2" stroke-linejoin="miter" stroke-miterlimit="3"/>
<polyline points="397.00,499.50 401.84,502.50 406.68,500.00 411.52,498.75 416.36,499.50 421.20,499.50 426.04,498.00 430.88,498.00 435.72,499.50 440.56,501.25 445.40,500.00 450.24,498.75 455.08,499.50 459.92,500.50 464.76,498.75 469.60,498.75 474.44,498.75 479.28,498.75 484.12,501.25 488.96,502.00 493.80,499.50 498.64,498.75 503.48,501.25 508.32,498.00 513.16,500.00 518.00,504.75 522.84,501.25 527.68,498.75 532.52,498.00 537.36,498.75 542.20,499.50 547.04,500.75 551.88,499.50 556.72,498.50 561.56,499.25 566.40,501.25 571.24,499.50 576.08,500.00 580.92,501.25 585.76,498.75 590.60,502.00 595.44,500.50 600.28,498.75 605.12,499.50 609.96,498.75 614.80,500.50 619.64,500.50 624.48,501.25 629.32,500.00 634.16,499.50" fill="none" stroke="#000" stroke-width="2.2" stroke-linejoin="miter" stroke-miterlimit="3"/>
<path d="M394.70,499.50 a2.3,2.3 0 1,0 4.60,0 a2.3,2.3 0 1,0 -4.60,0ZM399.54,502.50 a2.3,2.3 0 1,0 4.60,0 a2.3,2.3 0 1,0 -4.60,0ZM404.38,500.00 a2.3,2.3 0 1,0 4.60,0 a2.3,2.3 0 1,0 -4.60,0ZM409.22,498.75 a2.3,2.3 0 1,0 4.60,0 a2.3,2.3 0 1,0 -4.60,0ZM414.06,499.50 a2.3,2.3 0 1,0 4.60,0 a2.3,2.3 0 1,0 -4.60,0ZM418.90,499.50 a2.3,2.3 0 1,0 4.60,0 a2.3,2.3 0 1,0 -4.60,0ZM423.74,498.00 a2.3,2.3 0 1,0 4.60,0 a2.3,2.3 0 1,0 -4.60,0ZM428.58,498.00 a2.3,2.3 0 1,0 4.60,0 a2.3,2.3 0 1,0 -4.60,0ZM433.42,499.50 a2.3,2.3 0 1,0 4.60,0 a2.3,2.3 0 1,0 -4.60,0ZM438.26,501.25 a2.3,2.3 0 1,0 4.60,0 a2.3,2.3 0 1,0 -4.60,0ZM443.10,500.00 a2.3,2.3 0 1,0 4.60,0 a2.3,2.3 0 1,0 -4.60,0ZM447.94,498.75 a2.3,2.3 0 1,0 4.60,0 a2.3,2.3 0 1,0 -4.60,0ZM452.78,499.50 a2.3,2.3 0 1,0 4.60,0 a2.3,2.3 0 1,0 -4.60,0ZM457.62,500.50 a2.3,2.3 0 1,0 4.60,0 a2.3,2.3 0 1,0 -4.60,0ZM462.46,498.75 a2.3,2.3 0 1,0 4.60,0 a2.3,2.3 0 1,0 -4.60,0ZM467.30,498.75 a2.3,2.3 0 1,0 4.60,0 a2.3,2.3 0 1,0 -4.60,0ZM472.14,498.75 a2.3,2.3 0 1,0 4.60,0 a2.3,2.3 0 1,0 -4.60,0ZM476.98,498.75 a2.3,2.3 0 1,0 4.60,0 a2.3,2.3 0 1,0 -4.60,0ZM481.82,501.25 a2.3,2.3 0 1,0 4.60,0 a2.3,2.3 0 1,0 -4.60,0ZM486.66,502.00 a2.3,2.3 0 1,0 4.60,0 a2.3,2.3 0 1,0 -4.60,0ZM491.50,499.50 a2.3,2.3 0 1,0 4.60,0 a2.3,2.3 0 1,0 -4.60,0ZM496.34,498.75 a2.3,2.3 0 1,0 4.60,0 a2.3,2.3 0 1,0 -4.60,0ZM501.18,501.25 a2.3,2.3 0 1,0 4.60,0 a2.3,2.3 0 1,0 -4.60,0ZM506.02,498.00 a2.3,2.3 0 1,0 4.60,0 a2.3,2.3 0 1,0 -4.60,0ZM510.86,500.00 a2.3,2.3 0 1,0 4.60,0 a2.3,2.3 0 1,0 -4.60,0ZM515.70,504.75 a2.3,2.3 0 1,0 4.60,0 a2.3,2.3 0 1,0 -4.60,0ZM520.54,501.25 a2.3,2.3 0 1,0 4.60,0 a2.3,2.3 0 1,0 -4.60,0ZM525.38,498.75 a2.3,2.3 0 1,0 4.60,0 a2.3,2.3 0 1,0 -4.60,0ZM530.22,498.00 a2.3,2.3 0 1,0 4.60,0 a2.3,2.3 0 1,0 -4.60,0ZM535.06,498.75 a2.3,2.3 0 1,0 4.60,0 a2.3,2.3 0 1,0 -4.60,0ZM539.90,499.50 a2.3,2.3 0 1,0 4.60,0 a2.3,2.3 0 1,0 -4.60,0ZM544.74,500.75 a2.3,2.3 0 1,0 4.60,0 a2.3,2.3 0 1,0 -4.60,0ZM549.58,499.50 a2.3,2.3 0 1,0 4.60,0 a2.3,2.3 0 1,0 -4.60,0ZM554.42,498.50 a2.3,2.3 0 1,0 4.60,0 a2.3,2.3 0 1,0 -4.60,0ZM559.26,499.25 a2.3,2.3 0 1,0 4.60,0 a2.3,2.3 0 1,0 -4.60,0ZM564.10,501.25 a2.3,2.3 0 1,0 4.60,0 a2.3,2.3 0 1,0 -4.60,0ZM568.94,499.50 a2.3,2.3 0 1,0 4.60,0 a2.3,2.3 0 1,0 -4.60,0ZM573.78,500.00 a2.3,2.3 0 1,0 4.60,0 a2.3,2.3 0 1,0 -4.60,0ZM578.62,501.25 a2.3,2.3 0 1,0 4.60,0 a2.3,2.3 0 1,0 -4.60,0ZM583.46,498.75 a2.3,2.3 0 1,0 4.60,0 a2.3,2.3 0 1,0 -4.60,0ZM588.30,502.00 a2.3,2.3 0 1,0 4.60,0 a2.3,2.3 0 1,0 -4.60,0ZM593.14,500.50 a2.3,2.3 0 1,0 4.60,0 a2.3,2.3 0 1,0 -4.60,0ZM597.98,498.75 a2.3,2.3 0 1,0 4.60,0 a2.3,2.3 0 1,0 -4.60,0ZM602.82,499.50 a2.3,2.3 0 1,0 4.60,0 a2.3,2.3 0 1,0 -4.60,0ZM607.66,498.75 a2.3,2.3 0 1,0 4.60,0 a2.3,2.3 0 1,0 -4.60,0ZM612.50,500.50 a2.3,2.3 0 1,0 4.60,0 a2.3,2.3 0 1,0 -4.60,0ZM617.34,500.50 a2.3,2.3 0 1,0 4.60,0 a2.3,2.3 0 1,0 -4.60,0ZM622.18,501.25 a2.3,2.3 0 1,0 4.60,0 a2.3,2.3 0 1,0 -4.60,0ZM627.02,500.00 a2.3,2.3 0 1,0 4.60,0 a2.3,2.3 0 1,0 -4.60,0ZM631.86,499.50 a2.3,2.3 0 1,0 4.60,0 a2.3,2.3 0 1,0 -4.60,0Z" fill="none" stroke="#3c8a2e" stroke-width="1.45"/>
</g>
<text x="89.3" y="92.50" text-anchor="end" font-size="22" letter-spacing="-0.9" font-family="Liberation Serif">0.2</text>
<text x="89.3" y="110.50" text-anchor="end" font-size="22" letter-spacing="-0.9" font-family="Liberation Serif">0</text>
<text x="89.3" y="128.50" text-anchor="end" font-size="22" letter-spacing="-0.9" font-family="Liberation Serif">-0.2</text>
<text x="89.3" y="154.90" text-anchor="end" font-size="22" letter-spacing="-0.9" font-family="Liberation Serif">0.2</text>
<text x="89.3" y="172.90" text-anchor="end" font-size="22" letter-spacing="-0.9" font-family="Liberation Serif">0</text>
<text x="89.3" y="190.90" text-anchor="end" font-size="22" letter-spacing="-0.9" font-family="Liberation Serif">-0.2</text>
<text x="89.3" y="217.40" text-anchor="end" font-size="22" letter-spacing="-0.9" font-family="Liberation Serif">0.2</text>
<text x="89.3" y="235.40" text-anchor="end" font-size="22" letter-spacing="-0.9" font-family="Liberation Serif">0</text>
<text x="89.3" y="253.40" text-anchor="end" font-size="22" letter-spacing="-0.9" font-family="Liberation Serif">-0.2</text>
<text x="89.3" y="329.30" text-anchor="end" font-size="22" letter-spacing="-0.9" font-family="Liberation Serif">0.05</text>
<text x="89.3" y="347.30" text-anchor="end" font-size="22" letter-spacing="-0.9" font-family="Liberation Serif">0</text>
<text x="89.3" y="365.30" text-anchor="end" font-size="22" letter-spacing="-0.9" font-family="Liberation Serif">-0.05</text>
<text x="89.3" y="413.10" text-anchor="end" font-size="22" letter-spacing="-0.9" font-family="Liberation Serif">0.05</text>
<text x="89.3" y="431.10" text-anchor="end" font-size="22" letter-spacing="-0.9" font-family="Liberation Serif">0</text>
<text x="89.3" y="449.10" text-anchor="end" font-size="22" letter-spacing="-0.9" font-family="Liberation Serif">-0.05</text>
<text x="89.3" y="479.40" text-anchor="end" font-size="22" letter-spacing="-0.9" font-family="Liberation Serif">0.1</text>
<text x="89.3" y="497.40" text-anchor="end" font-size="22" letter-spacing="-0.9" font-family="Liberation Serif">0.05</text>
<text x="89.3" y="515.40" text-anchor="end" font-size="22" letter-spacing="-0.9" font-family="Liberation Serif">0</text>
<text x="148.80" y="526" text-anchor="middle" letter-spacing="-1.2" font-size="22" font-family="Liberation Serif">960</text>
<text x="197.20" y="526" text-anchor="middle" letter-spacing="-1.2" font-size="22" font-family="Liberation Serif">970</text>
<text x="245.60" y="526" text-anchor="middle" letter-spacing="-1.2" font-size="22" font-family="Liberation Serif">980</text>
<text x="294.00" y="526" text-anchor="middle" letter-spacing="-1.2" font-size="22" font-family="Liberation Serif">990</text>
<text x="342.40" y="526" text-anchor="middle" letter-spacing="-1.2" font-size="22" font-family="Liberation Serif">1000</text>
<text x="444.80" y="526" text-anchor="middle" letter-spacing="-1.2" font-size="22" font-family="Liberation Serif">960</text>
<text x="493.20" y="526" text-anchor="middle" letter-spacing="-1.2" font-size="22" font-family="Liberation Serif">970</text>
<text x="541.60" y="526" text-anchor="middle" letter-spacing="-1.2" font-size="22" font-family="Liberation Serif">980</text>
<text x="590.00" y="526" text-anchor="middle" letter-spacing="-1.2" font-size="22" font-family="Liberation Serif">990</text>
<text x="638.40" y="526" text-anchor="middle" letter-spacing="-1.2" font-size="22" font-family="Liberation Serif">1000</text>
<path d="M23.2,115.65 L34,120.25 L44.8,115.85 M23.2,93.35 L34,88.95 L44.8,93.35" fill="none" stroke="#000" stroke-width="1.05"/>
<g transform="translate(40.2,102.15) rotate(-90)"><text x="-12.4" y="0" font-size="20.5" font-style="italic" font-family="Liberation Serif">&#x3C3;</text><path d="M-8.6,-12.3 L-5.8,-15.5 L-3.0,-12.3" fill="none" stroke="#000" stroke-width="0.9"/><text x="1.3" y="-8.7" font-size="13.2" font-family="Liberation Serif">z</text><text x="0.0" y="4.4" font-size="16.3" font-family="Liberation Serif">2</text></g>
<path d="M23.2,176.80 L34,181.40 L44.8,177.00 M23.2,154.50 L34,150.10 L44.8,154.50" fill="none" stroke="#000" stroke-width="1.05"/>
<g transform="translate(40.2,163.30) rotate(-90)"><text x="-12.4" y="0" font-size="20.5" font-style="italic" font-family="Liberation Serif">&#x3C3;</text><path d="M-8.6,-12.3 L-5.8,-15.5 L-3.0,-12.3" fill="none" stroke="#000" stroke-width="0.9"/><text x="1.3" y="-8.7" font-size="13.2" font-family="Liberation Serif">z</text><text x="0.0" y="4.4" font-size="16.3" font-family="Liberation Serif">1</text></g>
<path d="M23.2,238.05 L34,242.65 L44.8,238.25 M23.2,215.75 L34,211.35 L44.8,215.75" fill="none" stroke="#000" stroke-width="1.05"/>
<g transform="translate(40.2,224.55) rotate(-90)"><text x="-12.4" y="0" font-size="20.5" font-style="italic" font-family="Liberation Serif">&#x3C3;</text><path d="M-8.6,-12.3 L-5.8,-15.5 L-3.0,-12.3" fill="none" stroke="#000" stroke-width="0.9"/><text x="1.3" y="-8.7" font-size="13.2" font-family="Liberation Serif">z</text><text x="0.0" y="4.4" font-size="16.3" font-family="Liberation Serif">0</text></g>
<path d="M23.2,349.15 L34,353.75 L44.8,349.35 M23.2,326.85 L34,322.45 L44.8,326.85" fill="none" stroke="#000" stroke-width="1.05"/>
<g transform="translate(40.2,335.65) rotate(-90)"><text x="-12.4" y="0" font-size="20.5" font-style="italic" font-family="Liberation Serif">&#x3C3;</text><path d="M-8.6,-12.3 L-5.8,-15.5 L-3.0,-12.3" fill="none" stroke="#000" stroke-width="0.9"/><text x="1.3" y="-8.7" font-size="13.2" font-family="Liberation Serif">x</text><text x="0.0" y="4.4" font-size="16.3" font-family="Liberation Serif">2</text></g>
<path d="M23.2,432.55 L34,437.15 L44.8,432.75 M23.2,410.25 L34,405.85 L44.8,410.25" fill="none" stroke="#000" stroke-width="1.05"/>
<g transform="translate(40.2,419.05) rotate(-90)"><text x="-12.4" y="0" font-size="20.5" font-style="italic" font-family="Liberation Serif">&#x3C3;</text><path d="M-8.6,-12.3 L-5.8,-15.5 L-3.0,-12.3" fill="none" stroke="#000" stroke-width="0.9"/><text x="1.3" y="-8.7" font-size="13.2" font-family="Liberation Serif">x</text><text x="0.0" y="4.4" font-size="16.3" font-family="Liberation Serif">1</text></g>
<path d="M23.2,504.95 L34,509.55 L44.8,505.15 M23.2,482.65 L34,478.25 L44.8,482.65" fill="none" stroke="#000" stroke-width="1.05"/>
<g transform="translate(40.2,491.45) rotate(-90)"><text x="-12.4" y="0" font-size="20.5" font-style="italic" font-family="Liberation Serif">&#x3C3;</text><path d="M-8.6,-12.3 L-5.8,-15.5 L-3.0,-12.3" fill="none" stroke="#000" stroke-width="0.9"/><text x="1.3" y="-8.7" font-size="13.2" font-family="Liberation Serif">x</text><text x="0.0" y="4.4" font-size="16.3" font-family="Liberation Serif">0</text></g>
<text x="104" y="66.40" font-size="22" letter-spacing="-0.6" font-family="Liberation Serif"><tspan font-size="24.5">(</tspan><tspan dy="-0.6">a</tspan><tspan font-size="24.5" dy="0.6">)</tspan></text>
<text x="400.5" y="66.40" font-size="22" letter-spacing="-0.6" font-family="Liberation Serif"><tspan font-size="24.5">(</tspan><tspan dy="-0.6">b</tspan><tspan font-size="24.5" dy="0.6">)</tspan></text>
<text x="104" y="312.20" font-size="22" letter-spacing="-0.6" font-family="Liberation Serif"><tspan font-size="24.5">(</tspan><tspan dy="-0.6">c</tspan><tspan font-size="24.5" dy="0.6">)</tspan></text>
<text x="400.5" y="312.20" font-size="22" letter-spacing="-0.6" font-family="Liberation Serif"><tspan font-size="24.5">(</tspan><tspan dy="-0.6">d</tspan><tspan font-size="24.5" dy="0.6">)</tspan></text>
<text x="202" y="29.3" font-size="22" font-style="italic" font-family="Liberation Serif">g</text>
<path d="M219.2,21.0 h14 M219.2,25.4 h14" stroke="#000" stroke-width="1.05"/>
<text x="239.2" y="29.3" font-size="22" font-family="Liberation Serif">0.3</text>
<text x="504.5" y="29.3" font-size="22" font-style="italic" font-family="Liberation Serif">g</text>
<path d="M521.7,21.0 h14 M521.7,25.4 h14" stroke="#000" stroke-width="1.05"/>
<text x="541.5" y="29.3" font-size="22" font-family="Liberation Serif">10</text>
<text x="352.5" y="563.7" font-size="22.5" font-style="italic" font-family="Liberation Serif">t</text>
<path d="M361.0,568.6 L368.6,549.3" stroke="#000" stroke-width="1.15" fill="none"/>
<path d="M371.9,563.2 L379.5,551.9 L387.2,563.2 Z" stroke="#000" stroke-width="1.1" fill="none" stroke-linejoin="miter"/>
<path d="M372.5,563.0 h14.2" stroke="#000" stroke-width="1.6"/><path d="M379.6,552.2 L386.6,563" stroke="#000" stroke-width="1.6"/>
<text x="387.2" y="563.7" font-size="22.5" font-style="italic" font-family="Liberation Serif">t</text>
</svg>
<div class="ln" style="top:611.70px;letter-spacing:0.153px">FIG. 2. Single-qubit observables of the first three qubits of the</div>
<div class="ln" style="top:639.60px;letter-spacing:0.236px">system with <i>N</i> <span class="eq"></span> 6 in the (a)-(b) z and (c)-(d) x directions.</div>
<div class="ln" style="top:667.50px;letter-spacing:0.353px">Solid lines correspond to the ideal values (<i>N</i><sub>meas</sub><svg class="arr" width="22" height="14" viewBox="0 0 22 14"><path d="M0.5,7 H20.5 M15.2,1.2 Q17,5.6 21.2,7 Q17,8.4 15.2,12.8" fill="none" stroke="#000" stroke-width="1.15"/></svg><svg class="inf" width="23" height="12" viewBox="0 0 23 12"><path d="M11.5,6 C9,1.5 6.5,0.7 5,0.7 C2.5,0.7 0.7,3 0.7,6 C0.7,9 2.5,11.3 5,11.3 C6.5,11.3 9,10.5 11.5,6 C14,1.5 16.5,0.7 18,0.7 C20.5,0.7 22.3,3 22.3,6 C22.3,9 20.5,11.3 18,11.3 C16.5,11.3 14,10.5 11.5,6Z" fill="none" stroke="#000" stroke-width="1.2"/></svg>) with</div>
<div class="ln" style="top:695.40px;letter-spacing:0.243px">(black) the effect of measurements on the system (OLP) and</div>
<div class="ln" style="top:723.30px;letter-spacing:0.443px">(grey) the unperturbed case (RSP and RWP), respectively.</div>
<div class="ln" style="top:751.20px;letter-spacing:0.157px">In symbols, the values obtained by numerically simulating</div>
<div class="ln" style="top:779.10px;letter-spacing:0.464px">the measurement process with <i>N</i><sub>meas</sub><span class="eq m"></span>1.5<span class="dot">&#x00B7;</span>10<sup>6</sup> in the OLP.</div>
<div class="ln" style="top:807.00px;letter-spacing:0.308px">Panels (a), (c) correspond to a weak measurement strength,</div>
<div class="ln" style="top:834.90px;letter-spacing:0.096px"><i>g</i> <span class="eq"></span> 0.3; whereas in panels (b), (d) strong measurements,</div>
<div class="ln" style="top:862.80px;letter-spacing:0.138px"><i>g</i> <span class="eq"></span> 10, are performed. The input is encoded into the state of</div>
<div class="ln last" style="top:890.70px;letter-spacing:0.247px">qubit 0 (see Appendix C).</div>

</body></html>
